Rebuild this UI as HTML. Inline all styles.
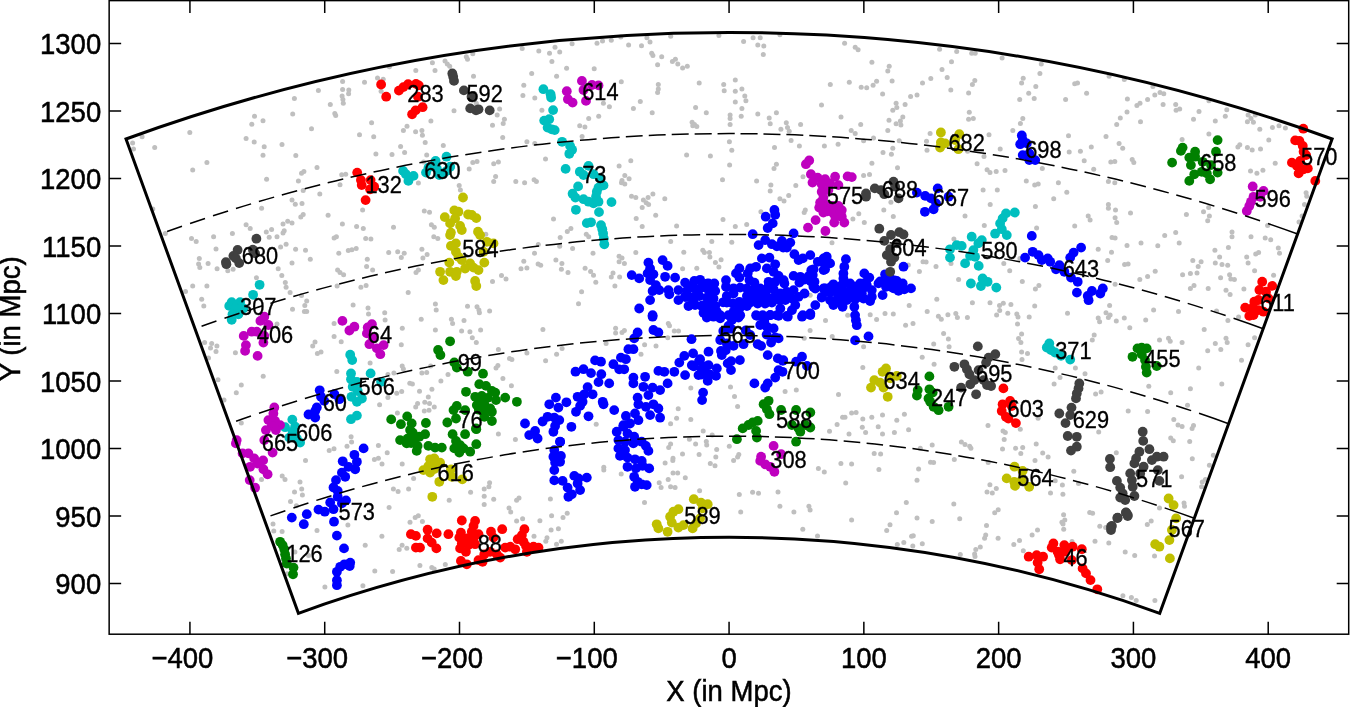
<!DOCTYPE html>
<html><head><meta charset="utf-8"><title>Supercluster map</title>
<style>
html,body{margin:0;padding:0;background:#fff;}
svg{display:block;font-family:"Liberation Sans",sans-serif;}
.tk{font-size:27.5px;fill:#000;stroke:#000;stroke-width:0.5px;}
.n{font-size:21.8px;fill:#000;stroke:#000;stroke-width:0.3px;}
</style></head><body>
<svg width="1350" height="707" viewBox="0 0 1350 707">
<rect x="0" y="0" width="1350" height="707" fill="#fff"/>

<g fill="#bfbfbf">
<circle cx="132.6" cy="143.1" r="2.5"/>
<circle cx="133.5" cy="149.0" r="2.5"/>
<circle cx="142.1" cy="136.7" r="2.5"/>
<circle cx="154.7" cy="147.4" r="2.5"/>
<circle cx="189.8" cy="132.4" r="2.5"/>
<circle cx="192.7" cy="169.9" r="2.5"/>
<circle cx="206.9" cy="162.6" r="2.5"/>
<circle cx="246.1" cy="138.6" r="2.5"/>
<circle cx="251.8" cy="124.3" r="2.5"/>
<circle cx="254.5" cy="116.2" r="2.5"/>
<circle cx="254.2" cy="141.9" r="2.5"/>
<circle cx="263.0" cy="120.8" r="2.5"/>
<circle cx="264.2" cy="146.7" r="2.5"/>
<circle cx="263.0" cy="155.2" r="2.5"/>
<circle cx="266.6" cy="179.2" r="2.5"/>
<circle cx="282.0" cy="144.5" r="2.5"/>
<circle cx="292.7" cy="114.1" r="2.5"/>
<circle cx="294.4" cy="98.4" r="2.5"/>
<circle cx="295.8" cy="155.4" r="2.5"/>
<circle cx="298.4" cy="180.9" r="2.5"/>
<circle cx="301.5" cy="173.3" r="2.5"/>
<circle cx="303.9" cy="171.4" r="2.5"/>
<circle cx="311.5" cy="128.8" r="2.5"/>
<circle cx="317.0" cy="167.6" r="2.5"/>
<circle cx="318.4" cy="90.6" r="2.5"/>
<circle cx="330.3" cy="104.4" r="2.5"/>
<circle cx="334.8" cy="113.4" r="2.5"/>
<circle cx="335.7" cy="115.5" r="2.5"/>
<circle cx="342.6" cy="81.5" r="2.5"/>
<circle cx="342.6" cy="89.6" r="2.5"/>
<circle cx="342.1" cy="96.0" r="2.5"/>
<circle cx="342.9" cy="99.6" r="2.5"/>
<circle cx="343.3" cy="103.2" r="2.5"/>
<circle cx="348.8" cy="90.1" r="2.5"/>
<circle cx="348.6" cy="93.7" r="2.5"/>
<circle cx="341.7" cy="174.7" r="2.5"/>
<circle cx="345.7" cy="174.2" r="2.5"/>
<circle cx="340.0" cy="184.7" r="2.5"/>
<circle cx="359.5" cy="134.8" r="2.5"/>
<circle cx="364.5" cy="82.3" r="2.5"/>
<circle cx="371.6" cy="122.7" r="2.5"/>
<circle cx="373.7" cy="136.7" r="2.5"/>
<circle cx="375.9" cy="154.0" r="2.5"/>
<circle cx="377.5" cy="78.0" r="2.5"/>
<circle cx="383.2" cy="79.2" r="2.5"/>
<circle cx="381.1" cy="91.3" r="2.5"/>
<circle cx="389.4" cy="66.8" r="2.5"/>
<circle cx="392.0" cy="154.5" r="2.5"/>
<circle cx="400.6" cy="146.4" r="2.5"/>
<circle cx="403.4" cy="130.5" r="2.5"/>
<circle cx="407.0" cy="126.2" r="2.5"/>
<circle cx="404.6" cy="152.6" r="2.5"/>
<circle cx="415.6" cy="131.7" r="2.5"/>
<circle cx="415.8" cy="70.4" r="2.5"/>
<circle cx="418.4" cy="183.0" r="2.5"/>
<circle cx="522.2" cy="48.5" r="2.5"/>
<circle cx="538.8" cy="50.9" r="2.5"/>
<circle cx="549.5" cy="53.3" r="2.5"/>
<circle cx="555.0" cy="47.3" r="2.5"/>
<circle cx="559.7" cy="52.1" r="2.5"/>
<circle cx="551.9" cy="61.6" r="2.5"/>
<circle cx="566.6" cy="68.2" r="2.5"/>
<circle cx="572.1" cy="43.8" r="2.5"/>
<circle cx="597.0" cy="43.3" r="2.5"/>
<circle cx="602.5" cy="40.9" r="2.5"/>
<circle cx="611.3" cy="40.2" r="2.5"/>
<circle cx="620.8" cy="37.1" r="2.5"/>
<circle cx="628.6" cy="45.0" r="2.5"/>
<circle cx="641.5" cy="45.7" r="2.5"/>
<circle cx="646.9" cy="37.8" r="2.5"/>
<circle cx="650.0" cy="41.9" r="2.5"/>
<circle cx="651.7" cy="53.3" r="2.5"/>
<circle cx="652.9" cy="55.6" r="2.5"/>
<circle cx="661.7" cy="56.8" r="2.5"/>
<circle cx="657.6" cy="64.7" r="2.5"/>
<circle cx="670.7" cy="36.2" r="2.5"/>
<circle cx="672.4" cy="61.6" r="2.5"/>
<circle cx="675.4" cy="59.2" r="2.5"/>
<circle cx="677.8" cy="64.0" r="2.5"/>
<circle cx="682.6" cy="68.0" r="2.5"/>
<circle cx="687.3" cy="66.3" r="2.5"/>
<circle cx="718.9" cy="35.4" r="2.5"/>
<circle cx="594.2" cy="68.7" r="2.5"/>
<circle cx="432.4" cy="62.8" r="2.5"/>
<circle cx="445.0" cy="60.9" r="2.5"/>
<circle cx="447.3" cy="64.0" r="2.5"/>
<circle cx="449.7" cy="66.3" r="2.5"/>
<circle cx="466.3" cy="56.8" r="2.5"/>
<circle cx="467.5" cy="59.2" r="2.5"/>
<circle cx="472.8" cy="53.7" r="2.5"/>
<circle cx="435.0" cy="70.6" r="2.5"/>
<circle cx="473.5" cy="76.3" r="2.5"/>
<circle cx="531.7" cy="73.5" r="2.5"/>
<circle cx="556.6" cy="76.3" r="2.5"/>
<circle cx="523.8" cy="85.3" r="2.5"/>
<circle cx="522.9" cy="95.6" r="2.5"/>
<circle cx="534.8" cy="97.9" r="2.5"/>
<circle cx="454.0" cy="110.8" r="2.5"/>
<circle cx="430.9" cy="121.0" r="2.5"/>
<circle cx="421.9" cy="130.5" r="2.5"/>
<circle cx="422.4" cy="135.2" r="2.5"/>
<circle cx="425.2" cy="142.4" r="2.5"/>
<circle cx="443.3" cy="145.5" r="2.5"/>
<circle cx="426.7" cy="155.0" r="2.5"/>
<circle cx="423.6" cy="162.1" r="2.5"/>
<circle cx="499.6" cy="109.1" r="2.5"/>
<circle cx="497.2" cy="115.0" r="2.5"/>
<circle cx="504.4" cy="119.3" r="2.5"/>
<circle cx="503.2" cy="123.4" r="2.5"/>
<circle cx="492.5" cy="125.3" r="2.5"/>
<circle cx="502.7" cy="137.6" r="2.5"/>
<circle cx="526.9" cy="141.7" r="2.5"/>
<circle cx="476.3" cy="103.2" r="2.5"/>
<circle cx="541.9" cy="110.3" r="2.5"/>
<circle cx="545.5" cy="159.0" r="2.5"/>
<circle cx="534.8" cy="143.6" r="2.5"/>
<circle cx="477.0" cy="161.4" r="2.5"/>
<circle cx="472.8" cy="162.6" r="2.5"/>
<circle cx="469.2" cy="169.0" r="2.5"/>
<circle cx="493.7" cy="163.8" r="2.5"/>
<circle cx="498.4" cy="162.1" r="2.5"/>
<circle cx="495.6" cy="176.4" r="2.5"/>
<circle cx="493.7" cy="181.6" r="2.5"/>
<circle cx="515.8" cy="181.6" r="2.5"/>
<circle cx="524.6" cy="182.8" r="2.5"/>
<circle cx="534.1" cy="179.7" r="2.5"/>
<circle cx="536.4" cy="181.6" r="2.5"/>
<circle cx="459.2" cy="185.6" r="2.5"/>
<circle cx="603.4" cy="103.2" r="2.5"/>
<circle cx="609.4" cy="106.7" r="2.5"/>
<circle cx="598.7" cy="116.2" r="2.5"/>
<circle cx="588.7" cy="118.6" r="2.5"/>
<circle cx="579.7" cy="125.7" r="2.5"/>
<circle cx="584.9" cy="126.9" r="2.5"/>
<circle cx="582.1" cy="136.4" r="2.5"/>
<circle cx="621.3" cy="81.8" r="2.5"/>
<circle cx="640.3" cy="101.5" r="2.5"/>
<circle cx="633.4" cy="108.6" r="2.5"/>
<circle cx="658.3" cy="84.6" r="2.5"/>
<circle cx="658.3" cy="88.9" r="2.5"/>
<circle cx="657.6" cy="92.5" r="2.5"/>
<circle cx="652.2" cy="112.7" r="2.5"/>
<circle cx="630.8" cy="160.7" r="2.5"/>
<circle cx="619.1" cy="166.1" r="2.5"/>
<circle cx="624.8" cy="175.6" r="2.5"/>
<circle cx="629.1" cy="178.7" r="2.5"/>
<circle cx="621.5" cy="182.8" r="2.5"/>
<circle cx="624.8" cy="184.0" r="2.5"/>
<circle cx="622.0" cy="180.4" r="2.5"/>
<circle cx="699.2" cy="83.0" r="2.5"/>
<circle cx="723.7" cy="84.6" r="2.5"/>
<circle cx="735.3" cy="79.9" r="2.5"/>
<circle cx="724.2" cy="90.8" r="2.5"/>
<circle cx="735.3" cy="91.3" r="2.5"/>
<circle cx="735.3" cy="102.0" r="2.5"/>
<circle cx="695.6" cy="107.4" r="2.5"/>
<circle cx="706.3" cy="112.7" r="2.5"/>
<circle cx="730.1" cy="115.0" r="2.5"/>
<circle cx="730.1" cy="118.6" r="2.5"/>
<circle cx="692.1" cy="122.2" r="2.5"/>
<circle cx="694.5" cy="124.6" r="2.5"/>
<circle cx="696.8" cy="126.5" r="2.5"/>
<circle cx="692.8" cy="125.7" r="2.5"/>
<circle cx="730.1" cy="124.6" r="2.5"/>
<circle cx="729.4" cy="141.7" r="2.5"/>
<circle cx="731.8" cy="150.2" r="2.5"/>
<circle cx="686.6" cy="155.0" r="2.5"/>
<circle cx="710.4" cy="155.9" r="2.5"/>
<circle cx="729.6" cy="165.0" r="2.5"/>
<circle cx="722.5" cy="179.7" r="2.5"/>
<circle cx="743.6" cy="41.4" r="2.5"/>
<circle cx="753.1" cy="37.8" r="2.5"/>
<circle cx="760.2" cy="37.8" r="2.5"/>
<circle cx="757.8" cy="45.0" r="2.5"/>
<circle cx="763.8" cy="46.1" r="2.5"/>
<circle cx="763.3" cy="54.5" r="2.5"/>
<circle cx="779.9" cy="34.7" r="2.5"/>
<circle cx="844.6" cy="43.3" r="2.5"/>
<circle cx="855.2" cy="47.3" r="2.5"/>
<circle cx="858.1" cy="49.7" r="2.5"/>
<circle cx="871.9" cy="62.3" r="2.5"/>
<circle cx="889.2" cy="66.3" r="2.5"/>
<circle cx="887.8" cy="71.1" r="2.5"/>
<circle cx="892.1" cy="81.1" r="2.5"/>
<circle cx="876.6" cy="81.3" r="2.5"/>
<circle cx="873.1" cy="85.3" r="2.5"/>
<circle cx="866.7" cy="87.7" r="2.5"/>
<circle cx="861.2" cy="87.2" r="2.5"/>
<circle cx="849.3" cy="82.3" r="2.5"/>
<circle cx="830.3" cy="84.6" r="2.5"/>
<circle cx="821.5" cy="105.1" r="2.5"/>
<circle cx="882.6" cy="94.1" r="2.5"/>
<circle cx="910.6" cy="96.5" r="2.5"/>
<circle cx="917.0" cy="95.1" r="2.5"/>
<circle cx="922.5" cy="83.0" r="2.5"/>
<circle cx="930.8" cy="78.5" r="2.5"/>
<circle cx="942.0" cy="69.4" r="2.5"/>
<circle cx="947.2" cy="77.5" r="2.5"/>
<circle cx="951.5" cy="61.8" r="2.5"/>
<circle cx="939.6" cy="49.2" r="2.5"/>
<circle cx="956.7" cy="51.6" r="2.5"/>
<circle cx="971.7" cy="53.3" r="2.5"/>
<circle cx="975.2" cy="53.3" r="2.5"/>
<circle cx="1002.1" cy="58.0" r="2.5"/>
<circle cx="1041.3" cy="64.0" r="2.5"/>
<circle cx="1039.9" cy="73.5" r="2.5"/>
<circle cx="1023.2" cy="78.2" r="2.5"/>
<circle cx="1021.6" cy="83.0" r="2.5"/>
<circle cx="1035.8" cy="86.5" r="2.5"/>
<circle cx="1028.7" cy="93.2" r="2.5"/>
<circle cx="1034.2" cy="98.4" r="2.5"/>
<circle cx="1019.7" cy="99.6" r="2.5"/>
<circle cx="974.8" cy="80.6" r="2.5"/>
<circle cx="972.4" cy="84.6" r="2.5"/>
<circle cx="968.6" cy="93.0" r="2.5"/>
<circle cx="950.8" cy="90.1" r="2.5"/>
<circle cx="896.1" cy="103.2" r="2.5"/>
<circle cx="896.8" cy="107.4" r="2.5"/>
<circle cx="892.8" cy="110.3" r="2.5"/>
<circle cx="905.1" cy="104.4" r="2.5"/>
<circle cx="902.8" cy="117.0" r="2.5"/>
<circle cx="900.4" cy="121.0" r="2.5"/>
<circle cx="896.1" cy="123.8" r="2.5"/>
<circle cx="900.9" cy="125.0" r="2.5"/>
<circle cx="889.0" cy="120.3" r="2.5"/>
<circle cx="887.8" cy="130.5" r="2.5"/>
<circle cx="860.7" cy="124.6" r="2.5"/>
<circle cx="841.0" cy="117.0" r="2.5"/>
<circle cx="851.2" cy="130.5" r="2.5"/>
<circle cx="855.2" cy="133.6" r="2.5"/>
<circle cx="741.9" cy="88.9" r="2.5"/>
<circle cx="744.8" cy="96.0" r="2.5"/>
<circle cx="745.9" cy="100.8" r="2.5"/>
<circle cx="741.9" cy="108.4" r="2.5"/>
<circle cx="741.2" cy="116.2" r="2.5"/>
<circle cx="757.8" cy="113.9" r="2.5"/>
<circle cx="776.4" cy="112.7" r="2.5"/>
<circle cx="769.2" cy="118.1" r="2.5"/>
<circle cx="770.2" cy="123.8" r="2.5"/>
<circle cx="786.3" cy="122.7" r="2.5"/>
<circle cx="787.5" cy="127.4" r="2.5"/>
<circle cx="789.2" cy="131.2" r="2.5"/>
<circle cx="780.9" cy="129.3" r="2.5"/>
<circle cx="800.6" cy="124.6" r="2.5"/>
<circle cx="969.3" cy="112.2" r="2.5"/>
<circle cx="968.6" cy="119.3" r="2.5"/>
<circle cx="973.3" cy="118.6" r="2.5"/>
<circle cx="1022.8" cy="118.6" r="2.5"/>
<circle cx="1020.4" cy="123.4" r="2.5"/>
<circle cx="1012.8" cy="130.5" r="2.5"/>
<circle cx="989.0" cy="134.8" r="2.5"/>
<circle cx="930.1" cy="133.6" r="2.5"/>
<circle cx="926.5" cy="141.2" r="2.5"/>
<circle cx="927.0" cy="150.2" r="2.5"/>
<circle cx="899.2" cy="140.7" r="2.5"/>
<circle cx="892.8" cy="148.3" r="2.5"/>
<circle cx="891.4" cy="154.3" r="2.5"/>
<circle cx="883.0" cy="152.4" r="2.5"/>
<circle cx="873.5" cy="138.1" r="2.5"/>
<circle cx="863.6" cy="140.7" r="2.5"/>
<circle cx="838.1" cy="144.3" r="2.5"/>
<circle cx="824.4" cy="145.9" r="2.5"/>
<circle cx="799.4" cy="145.9" r="2.5"/>
<circle cx="791.1" cy="140.5" r="2.5"/>
<circle cx="774.5" cy="147.6" r="2.5"/>
<circle cx="776.4" cy="164.2" r="2.5"/>
<circle cx="774.0" cy="168.5" r="2.5"/>
<circle cx="756.6" cy="181.1" r="2.5"/>
<circle cx="770.9" cy="185.1" r="2.5"/>
<circle cx="795.8" cy="185.6" r="2.5"/>
<circle cx="803.0" cy="176.8" r="2.5"/>
<circle cx="863.6" cy="175.6" r="2.5"/>
<circle cx="869.5" cy="174.5" r="2.5"/>
<circle cx="871.9" cy="163.3" r="2.5"/>
<circle cx="897.5" cy="167.8" r="2.5"/>
<circle cx="977.1" cy="163.8" r="2.5"/>
<circle cx="984.0" cy="156.6" r="2.5"/>
<circle cx="1000.2" cy="149.0" r="2.5"/>
<circle cx="967.6" cy="151.2" r="2.5"/>
<circle cx="987.1" cy="169.7" r="2.5"/>
<circle cx="990.0" cy="172.6" r="2.5"/>
<circle cx="996.2" cy="171.4" r="2.5"/>
<circle cx="1005.0" cy="170.4" r="2.5"/>
<circle cx="1042.3" cy="168.5" r="2.5"/>
<circle cx="1026.3" cy="180.9" r="2.5"/>
<circle cx="1038.2" cy="184.0" r="2.5"/>
<circle cx="1034.7" cy="185.1" r="2.5"/>
<circle cx="1058.4" cy="182.8" r="2.5"/>
<circle cx="1065.6" cy="99.6" r="2.5"/>
<circle cx="1074.7" cy="83.7" r="2.5"/>
<circle cx="1077.5" cy="83.0" r="2.5"/>
<circle cx="1086.6" cy="93.2" r="2.5"/>
<circle cx="1109.1" cy="76.3" r="2.5"/>
<circle cx="1124.3" cy="79.4" r="2.5"/>
<circle cx="1127.4" cy="99.1" r="2.5"/>
<circle cx="1127.0" cy="112.0" r="2.5"/>
<circle cx="1120.3" cy="117.9" r="2.5"/>
<circle cx="1116.7" cy="124.6" r="2.5"/>
<circle cx="1140.5" cy="121.7" r="2.5"/>
<circle cx="1136.9" cy="105.5" r="2.5"/>
<circle cx="1140.0" cy="103.2" r="2.5"/>
<circle cx="1147.6" cy="99.6" r="2.5"/>
<circle cx="1154.8" cy="94.9" r="2.5"/>
<circle cx="1152.9" cy="86.5" r="2.5"/>
<circle cx="1160.0" cy="92.5" r="2.5"/>
<circle cx="1163.8" cy="93.7" r="2.5"/>
<circle cx="1163.1" cy="104.4" r="2.5"/>
<circle cx="1175.7" cy="104.4" r="2.5"/>
<circle cx="1176.1" cy="110.3" r="2.5"/>
<circle cx="1179.7" cy="109.1" r="2.5"/>
<circle cx="1193.5" cy="119.3" r="2.5"/>
<circle cx="1199.0" cy="111.5" r="2.5"/>
<circle cx="1208.9" cy="100.8" r="2.5"/>
<circle cx="1215.3" cy="121.0" r="2.5"/>
<circle cx="1225.3" cy="116.2" r="2.5"/>
<circle cx="1226.8" cy="109.8" r="2.5"/>
<circle cx="1208.9" cy="134.1" r="2.5"/>
<circle cx="1182.1" cy="139.5" r="2.5"/>
<circle cx="1068.5" cy="135.7" r="2.5"/>
<circle cx="1106.0" cy="136.4" r="2.5"/>
<circle cx="1119.1" cy="143.6" r="2.5"/>
<circle cx="1122.7" cy="148.3" r="2.5"/>
<circle cx="1091.3" cy="147.1" r="2.5"/>
<circle cx="1080.4" cy="151.2" r="2.5"/>
<circle cx="1069.2" cy="151.9" r="2.5"/>
<circle cx="1084.2" cy="160.7" r="2.5"/>
<circle cx="1093.7" cy="169.2" r="2.5"/>
<circle cx="1110.8" cy="162.1" r="2.5"/>
<circle cx="1114.8" cy="161.4" r="2.5"/>
<circle cx="1132.2" cy="159.5" r="2.5"/>
<circle cx="1133.8" cy="162.6" r="2.5"/>
<circle cx="1114.8" cy="182.8" r="2.5"/>
<circle cx="1108.4" cy="181.6" r="2.5"/>
<circle cx="1248.1" cy="115.0" r="2.5"/>
<circle cx="1251.0" cy="118.6" r="2.5"/>
<circle cx="1247.4" cy="121.7" r="2.5"/>
<circle cx="1253.4" cy="122.2" r="2.5"/>
<circle cx="1255.3" cy="115.0" r="2.5"/>
<circle cx="1259.8" cy="129.3" r="2.5"/>
<circle cx="1272.4" cy="127.4" r="2.5"/>
<circle cx="1279.0" cy="125.7" r="2.5"/>
<circle cx="1285.4" cy="128.1" r="2.5"/>
<circle cx="1268.8" cy="140.0" r="2.5"/>
<circle cx="1239.8" cy="144.8" r="2.5"/>
<circle cx="1237.9" cy="147.1" r="2.5"/>
<circle cx="1247.4" cy="147.6" r="2.5"/>
<circle cx="1252.2" cy="150.0" r="2.5"/>
<circle cx="1260.5" cy="149.0" r="2.5"/>
<circle cx="1275.2" cy="163.3" r="2.5"/>
<circle cx="1250.5" cy="170.9" r="2.5"/>
<circle cx="1256.9" cy="173.3" r="2.5"/>
<circle cx="1262.9" cy="170.2" r="2.5"/>
<circle cx="152.8" cy="208.9" r="2.5"/>
<circle cx="165.3" cy="233.6" r="2.5"/>
<circle cx="191.5" cy="238.4" r="2.5"/>
<circle cx="196.2" cy="241.5" r="2.5"/>
<circle cx="213.6" cy="236.7" r="2.5"/>
<circle cx="232.4" cy="233.6" r="2.5"/>
<circle cx="246.1" cy="224.8" r="2.5"/>
<circle cx="250.2" cy="228.4" r="2.5"/>
<circle cx="216.0" cy="249.1" r="2.5"/>
<circle cx="199.3" cy="258.6" r="2.5"/>
<circle cx="198.6" cy="264.0" r="2.5"/>
<circle cx="199.8" cy="267.6" r="2.5"/>
<circle cx="208.1" cy="263.6" r="2.5"/>
<circle cx="217.1" cy="268.8" r="2.5"/>
<circle cx="227.8" cy="270.7" r="2.5"/>
<circle cx="233.1" cy="269.3" r="2.5"/>
<circle cx="261.6" cy="208.2" r="2.5"/>
<circle cx="266.3" cy="232.0" r="2.5"/>
<circle cx="271.6" cy="229.6" r="2.5"/>
<circle cx="269.2" cy="237.2" r="2.5"/>
<circle cx="277.0" cy="236.7" r="2.5"/>
<circle cx="283.0" cy="224.1" r="2.5"/>
<circle cx="284.2" cy="230.8" r="2.5"/>
<circle cx="287.7" cy="221.3" r="2.5"/>
<circle cx="292.0" cy="222.9" r="2.5"/>
<circle cx="283.0" cy="233.1" r="2.5"/>
<circle cx="286.1" cy="244.3" r="2.5"/>
<circle cx="280.6" cy="246.9" r="2.5"/>
<circle cx="292.0" cy="199.9" r="2.5"/>
<circle cx="295.3" cy="204.2" r="2.5"/>
<circle cx="302.0" cy="203.4" r="2.5"/>
<circle cx="303.2" cy="190.4" r="2.5"/>
<circle cx="319.8" cy="193.9" r="2.5"/>
<circle cx="300.8" cy="217.0" r="2.5"/>
<circle cx="303.2" cy="214.6" r="2.5"/>
<circle cx="328.1" cy="215.3" r="2.5"/>
<circle cx="342.4" cy="224.1" r="2.5"/>
<circle cx="356.6" cy="226.5" r="2.5"/>
<circle cx="363.3" cy="228.4" r="2.5"/>
<circle cx="362.6" cy="209.9" r="2.5"/>
<circle cx="336.4" cy="236.7" r="2.5"/>
<circle cx="334.1" cy="237.9" r="2.5"/>
<circle cx="365.7" cy="238.4" r="2.5"/>
<circle cx="370.9" cy="239.1" r="2.5"/>
<circle cx="393.5" cy="227.2" r="2.5"/>
<circle cx="348.3" cy="250.5" r="2.5"/>
<circle cx="351.9" cy="249.8" r="2.5"/>
<circle cx="356.2" cy="248.6" r="2.5"/>
<circle cx="338.8" cy="253.3" r="2.5"/>
<circle cx="295.6" cy="249.3" r="2.5"/>
<circle cx="305.5" cy="250.3" r="2.5"/>
<circle cx="310.3" cy="259.3" r="2.5"/>
<circle cx="292.0" cy="262.9" r="2.5"/>
<circle cx="278.2" cy="268.8" r="2.5"/>
<circle cx="281.8" cy="275.4" r="2.5"/>
<circle cx="285.3" cy="282.6" r="2.5"/>
<circle cx="286.1" cy="287.3" r="2.5"/>
<circle cx="290.1" cy="292.6" r="2.5"/>
<circle cx="256.4" cy="277.8" r="2.5"/>
<circle cx="206.9" cy="286.1" r="2.5"/>
<circle cx="192.7" cy="286.1" r="2.5"/>
<circle cx="185.5" cy="291.4" r="2.5"/>
<circle cx="201.7" cy="299.2" r="2.5"/>
<circle cx="203.8" cy="306.1" r="2.5"/>
<circle cx="204.6" cy="342.5" r="2.5"/>
<circle cx="211.7" cy="343.6" r="2.5"/>
<circle cx="210.5" cy="347.9" r="2.5"/>
<circle cx="216.9" cy="346.0" r="2.5"/>
<circle cx="216.0" cy="351.5" r="2.5"/>
<circle cx="235.4" cy="352.7" r="2.5"/>
<circle cx="337.6" cy="270.0" r="2.5"/>
<circle cx="340.0" cy="272.4" r="2.5"/>
<circle cx="343.6" cy="274.7" r="2.5"/>
<circle cx="367.3" cy="259.3" r="2.5"/>
<circle cx="366.6" cy="266.4" r="2.5"/>
<circle cx="372.6" cy="270.0" r="2.5"/>
<circle cx="388.7" cy="252.6" r="2.5"/>
<circle cx="397.7" cy="251.7" r="2.5"/>
<circle cx="404.2" cy="253.3" r="2.5"/>
<circle cx="401.3" cy="257.4" r="2.5"/>
<circle cx="418.4" cy="270.0" r="2.5"/>
<circle cx="416.0" cy="272.4" r="2.5"/>
<circle cx="408.2" cy="292.6" r="2.5"/>
<circle cx="366.1" cy="285.4" r="2.5"/>
<circle cx="360.9" cy="287.3" r="2.5"/>
<circle cx="337.1" cy="286.1" r="2.5"/>
<circle cx="306.7" cy="300.9" r="2.5"/>
<circle cx="304.8" cy="305.6" r="2.5"/>
<circle cx="301.5" cy="295.4" r="2.5"/>
<circle cx="292.5" cy="309.2" r="2.5"/>
<circle cx="304.4" cy="311.6" r="2.5"/>
<circle cx="306.7" cy="311.6" r="2.5"/>
<circle cx="277.0" cy="323.9" r="2.5"/>
<circle cx="353.1" cy="304.9" r="2.5"/>
<circle cx="368.0" cy="308.0" r="2.5"/>
<circle cx="368.5" cy="313.9" r="2.5"/>
<circle cx="384.7" cy="312.8" r="2.5"/>
<circle cx="385.1" cy="319.9" r="2.5"/>
<circle cx="334.1" cy="323.4" r="2.5"/>
<circle cx="402.3" cy="328.2" r="2.5"/>
<circle cx="401.3" cy="344.8" r="2.5"/>
<circle cx="334.1" cy="336.5" r="2.5"/>
<circle cx="341.2" cy="341.7" r="2.5"/>
<circle cx="315.0" cy="342.0" r="2.5"/>
<circle cx="312.7" cy="346.0" r="2.5"/>
<circle cx="321.0" cy="352.0" r="2.5"/>
<circle cx="317.4" cy="353.6" r="2.5"/>
<circle cx="460.4" cy="189.9" r="2.5"/>
<circle cx="424.3" cy="211.0" r="2.5"/>
<circle cx="429.5" cy="212.2" r="2.5"/>
<circle cx="431.4" cy="224.8" r="2.5"/>
<circle cx="434.3" cy="227.2" r="2.5"/>
<circle cx="433.8" cy="236.7" r="2.5"/>
<circle cx="437.8" cy="238.4" r="2.5"/>
<circle cx="421.9" cy="249.3" r="2.5"/>
<circle cx="427.1" cy="254.5" r="2.5"/>
<circle cx="422.9" cy="258.1" r="2.5"/>
<circle cx="485.8" cy="234.3" r="2.5"/>
<circle cx="553.5" cy="218.9" r="2.5"/>
<circle cx="570.9" cy="228.4" r="2.5"/>
<circle cx="567.3" cy="231.5" r="2.5"/>
<circle cx="560.2" cy="237.4" r="2.5"/>
<circle cx="586.3" cy="234.3" r="2.5"/>
<circle cx="588.7" cy="236.7" r="2.5"/>
<circle cx="559.7" cy="246.2" r="2.5"/>
<circle cx="572.6" cy="248.6" r="2.5"/>
<circle cx="593.0" cy="253.3" r="2.5"/>
<circle cx="538.3" cy="244.6" r="2.5"/>
<circle cx="534.5" cy="253.3" r="2.5"/>
<circle cx="523.8" cy="261.2" r="2.5"/>
<circle cx="521.0" cy="268.8" r="2.5"/>
<circle cx="526.9" cy="268.1" r="2.5"/>
<circle cx="538.1" cy="264.0" r="2.5"/>
<circle cx="540.7" cy="265.2" r="2.5"/>
<circle cx="555.9" cy="260.0" r="2.5"/>
<circle cx="561.9" cy="263.6" r="2.5"/>
<circle cx="561.4" cy="269.3" r="2.5"/>
<circle cx="568.0" cy="272.4" r="2.5"/>
<circle cx="585.1" cy="268.3" r="2.5"/>
<circle cx="590.6" cy="271.6" r="2.5"/>
<circle cx="593.5" cy="275.2" r="2.5"/>
<circle cx="595.8" cy="282.3" r="2.5"/>
<circle cx="581.6" cy="291.8" r="2.5"/>
<circle cx="578.5" cy="303.7" r="2.5"/>
<circle cx="501.5" cy="275.4" r="2.5"/>
<circle cx="506.0" cy="279.0" r="2.5"/>
<circle cx="492.5" cy="281.4" r="2.5"/>
<circle cx="435.4" cy="304.0" r="2.5"/>
<circle cx="436.2" cy="309.9" r="2.5"/>
<circle cx="467.5" cy="306.3" r="2.5"/>
<circle cx="477.0" cy="306.8" r="2.5"/>
<circle cx="478.9" cy="309.9" r="2.5"/>
<circle cx="479.4" cy="312.8" r="2.5"/>
<circle cx="489.6" cy="311.1" r="2.5"/>
<circle cx="421.2" cy="319.2" r="2.5"/>
<circle cx="451.4" cy="319.2" r="2.5"/>
<circle cx="452.6" cy="323.4" r="2.5"/>
<circle cx="464.0" cy="320.6" r="2.5"/>
<circle cx="435.4" cy="329.9" r="2.5"/>
<circle cx="461.6" cy="331.0" r="2.5"/>
<circle cx="469.9" cy="331.8" r="2.5"/>
<circle cx="472.3" cy="337.7" r="2.5"/>
<circle cx="480.6" cy="329.9" r="2.5"/>
<circle cx="476.3" cy="342.5" r="2.5"/>
<circle cx="542.9" cy="329.4" r="2.5"/>
<circle cx="498.4" cy="349.6" r="2.5"/>
<circle cx="526.9" cy="353.1" r="2.5"/>
<circle cx="562.1" cy="348.4" r="2.5"/>
<circle cx="556.6" cy="354.3" r="2.5"/>
<circle cx="631.5" cy="196.3" r="2.5"/>
<circle cx="635.8" cy="197.5" r="2.5"/>
<circle cx="643.4" cy="199.9" r="2.5"/>
<circle cx="646.2" cy="202.7" r="2.5"/>
<circle cx="648.6" cy="204.6" r="2.5"/>
<circle cx="648.1" cy="197.5" r="2.5"/>
<circle cx="652.9" cy="193.9" r="2.5"/>
<circle cx="664.8" cy="198.7" r="2.5"/>
<circle cx="642.2" cy="207.5" r="2.5"/>
<circle cx="655.7" cy="215.3" r="2.5"/>
<circle cx="636.2" cy="218.4" r="2.5"/>
<circle cx="642.2" cy="226.5" r="2.5"/>
<circle cx="676.6" cy="226.0" r="2.5"/>
<circle cx="723.0" cy="219.6" r="2.5"/>
<circle cx="735.3" cy="226.5" r="2.5"/>
<circle cx="670.7" cy="241.5" r="2.5"/>
<circle cx="711.8" cy="241.5" r="2.5"/>
<circle cx="731.8" cy="242.2" r="2.5"/>
<circle cx="683.8" cy="252.2" r="2.5"/>
<circle cx="702.8" cy="250.3" r="2.5"/>
<circle cx="704.4" cy="252.6" r="2.5"/>
<circle cx="709.4" cy="252.6" r="2.5"/>
<circle cx="709.9" cy="256.9" r="2.5"/>
<circle cx="721.1" cy="259.8" r="2.5"/>
<circle cx="715.4" cy="262.4" r="2.5"/>
<circle cx="718.9" cy="267.1" r="2.5"/>
<circle cx="696.8" cy="268.3" r="2.5"/>
<circle cx="682.6" cy="268.8" r="2.5"/>
<circle cx="635.8" cy="252.6" r="2.5"/>
<circle cx="619.1" cy="256.2" r="2.5"/>
<circle cx="622.0" cy="258.1" r="2.5"/>
<circle cx="619.1" cy="261.7" r="2.5"/>
<circle cx="624.4" cy="263.6" r="2.5"/>
<circle cx="613.0" cy="273.1" r="2.5"/>
<circle cx="611.3" cy="277.1" r="2.5"/>
<circle cx="619.6" cy="277.1" r="2.5"/>
<circle cx="614.9" cy="286.1" r="2.5"/>
<circle cx="615.6" cy="328.2" r="2.5"/>
<circle cx="615.6" cy="333.0" r="2.5"/>
<circle cx="622.0" cy="332.5" r="2.5"/>
<circle cx="624.4" cy="330.6" r="2.5"/>
<circle cx="606.1" cy="343.6" r="2.5"/>
<circle cx="668.3" cy="323.4" r="2.5"/>
<circle cx="669.5" cy="325.8" r="2.5"/>
<circle cx="674.3" cy="331.0" r="2.5"/>
<circle cx="678.5" cy="331.0" r="2.5"/>
<circle cx="667.8" cy="337.7" r="2.5"/>
<circle cx="656.0" cy="346.0" r="2.5"/>
<circle cx="644.6" cy="344.8" r="2.5"/>
<circle cx="641.0" cy="354.3" r="2.5"/>
<circle cx="770.2" cy="190.9" r="2.5"/>
<circle cx="779.9" cy="198.7" r="2.5"/>
<circle cx="784.0" cy="201.1" r="2.5"/>
<circle cx="788.7" cy="195.6" r="2.5"/>
<circle cx="760.9" cy="211.8" r="2.5"/>
<circle cx="746.7" cy="224.4" r="2.5"/>
<circle cx="805.3" cy="209.9" r="2.5"/>
<circle cx="804.2" cy="212.5" r="2.5"/>
<circle cx="832.0" cy="242.7" r="2.5"/>
<circle cx="858.8" cy="213.7" r="2.5"/>
<circle cx="852.9" cy="218.9" r="2.5"/>
<circle cx="864.3" cy="222.5" r="2.5"/>
<circle cx="883.8" cy="209.9" r="2.5"/>
<circle cx="893.3" cy="216.5" r="2.5"/>
<circle cx="890.9" cy="202.3" r="2.5"/>
<circle cx="965.0" cy="216.0" r="2.5"/>
<circle cx="990.2" cy="204.6" r="2.5"/>
<circle cx="983.1" cy="189.9" r="2.5"/>
<circle cx="997.3" cy="189.9" r="2.5"/>
<circle cx="1053.7" cy="198.7" r="2.5"/>
<circle cx="1035.4" cy="206.5" r="2.5"/>
<circle cx="984.3" cy="225.5" r="2.5"/>
<circle cx="1036.6" cy="227.9" r="2.5"/>
<circle cx="953.9" cy="239.1" r="2.5"/>
<circle cx="936.0" cy="266.4" r="2.5"/>
<circle cx="923.0" cy="261.7" r="2.5"/>
<circle cx="926.1" cy="262.1" r="2.5"/>
<circle cx="919.4" cy="271.6" r="2.5"/>
<circle cx="951.0" cy="263.6" r="2.5"/>
<circle cx="958.6" cy="279.5" r="2.5"/>
<circle cx="1003.8" cy="263.6" r="2.5"/>
<circle cx="1009.7" cy="270.7" r="2.5"/>
<circle cx="1022.3" cy="281.4" r="2.5"/>
<circle cx="1038.9" cy="285.4" r="2.5"/>
<circle cx="1035.4" cy="289.0" r="2.5"/>
<circle cx="1019.9" cy="258.6" r="2.5"/>
<circle cx="936.8" cy="299.2" r="2.5"/>
<circle cx="909.2" cy="305.6" r="2.5"/>
<circle cx="927.2" cy="311.6" r="2.5"/>
<circle cx="870.2" cy="314.7" r="2.5"/>
<circle cx="876.6" cy="319.4" r="2.5"/>
<circle cx="885.0" cy="313.5" r="2.5"/>
<circle cx="893.3" cy="313.9" r="2.5"/>
<circle cx="905.6" cy="325.3" r="2.5"/>
<circle cx="913.0" cy="323.4" r="2.5"/>
<circle cx="938.4" cy="316.3" r="2.5"/>
<circle cx="941.3" cy="319.2" r="2.5"/>
<circle cx="947.9" cy="314.7" r="2.5"/>
<circle cx="955.8" cy="313.5" r="2.5"/>
<circle cx="957.4" cy="317.5" r="2.5"/>
<circle cx="967.4" cy="317.5" r="2.5"/>
<circle cx="972.4" cy="302.8" r="2.5"/>
<circle cx="990.0" cy="302.8" r="2.5"/>
<circle cx="999.5" cy="305.6" r="2.5"/>
<circle cx="1003.3" cy="303.2" r="2.5"/>
<circle cx="1010.9" cy="304.4" r="2.5"/>
<circle cx="999.7" cy="310.4" r="2.5"/>
<circle cx="996.6" cy="315.1" r="2.5"/>
<circle cx="1007.8" cy="313.2" r="2.5"/>
<circle cx="1016.8" cy="313.9" r="2.5"/>
<circle cx="1018.0" cy="317.0" r="2.5"/>
<circle cx="1029.2" cy="317.0" r="2.5"/>
<circle cx="1034.7" cy="306.1" r="2.5"/>
<circle cx="1017.5" cy="323.9" r="2.5"/>
<circle cx="943.6" cy="333.4" r="2.5"/>
<circle cx="948.4" cy="338.9" r="2.5"/>
<circle cx="933.7" cy="344.1" r="2.5"/>
<circle cx="949.1" cy="346.7" r="2.5"/>
<circle cx="1021.6" cy="334.1" r="2.5"/>
<circle cx="1018.5" cy="338.4" r="2.5"/>
<circle cx="1020.9" cy="342.5" r="2.5"/>
<circle cx="1021.6" cy="352.0" r="2.5"/>
<circle cx="1027.5" cy="353.6" r="2.5"/>
<circle cx="825.5" cy="320.4" r="2.5"/>
<circle cx="810.1" cy="330.6" r="2.5"/>
<circle cx="804.2" cy="338.2" r="2.5"/>
<circle cx="832.2" cy="336.5" r="2.5"/>
<circle cx="863.6" cy="346.7" r="2.5"/>
<circle cx="1066.8" cy="192.3" r="2.5"/>
<circle cx="1088.2" cy="216.0" r="2.5"/>
<circle cx="1090.1" cy="220.1" r="2.5"/>
<circle cx="1074.7" cy="226.0" r="2.5"/>
<circle cx="1108.4" cy="204.6" r="2.5"/>
<circle cx="1108.4" cy="208.2" r="2.5"/>
<circle cx="1115.5" cy="209.9" r="2.5"/>
<circle cx="1115.1" cy="217.7" r="2.5"/>
<circle cx="1116.7" cy="222.5" r="2.5"/>
<circle cx="1130.5" cy="213.0" r="2.5"/>
<circle cx="1112.0" cy="237.4" r="2.5"/>
<circle cx="1115.1" cy="237.9" r="2.5"/>
<circle cx="1098.2" cy="249.3" r="2.5"/>
<circle cx="1111.5" cy="252.2" r="2.5"/>
<circle cx="1127.0" cy="245.5" r="2.5"/>
<circle cx="1141.0" cy="243.1" r="2.5"/>
<circle cx="1157.8" cy="245.7" r="2.5"/>
<circle cx="1164.7" cy="235.5" r="2.5"/>
<circle cx="1175.7" cy="232.4" r="2.5"/>
<circle cx="1179.2" cy="243.1" r="2.5"/>
<circle cx="1186.4" cy="214.6" r="2.5"/>
<circle cx="1203.5" cy="211.8" r="2.5"/>
<circle cx="1209.4" cy="216.0" r="2.5"/>
<circle cx="1207.7" cy="220.8" r="2.5"/>
<circle cx="1208.7" cy="207.5" r="2.5"/>
<circle cx="1232.0" cy="232.0" r="2.5"/>
<circle cx="1232.0" cy="236.7" r="2.5"/>
<circle cx="1251.0" cy="236.7" r="2.5"/>
<circle cx="1265.2" cy="237.9" r="2.5"/>
<circle cx="1270.7" cy="239.8" r="2.5"/>
<circle cx="1267.6" cy="225.5" r="2.5"/>
<circle cx="1278.3" cy="248.1" r="2.5"/>
<circle cx="1279.5" cy="253.3" r="2.5"/>
<circle cx="1299.0" cy="222.0" r="2.5"/>
<circle cx="1302.1" cy="216.0" r="2.5"/>
<circle cx="1304.5" cy="204.6" r="2.5"/>
<circle cx="1306.8" cy="196.3" r="2.5"/>
<circle cx="1306.1" cy="192.8" r="2.5"/>
<circle cx="1258.6" cy="252.6" r="2.5"/>
<circle cx="1255.7" cy="254.1" r="2.5"/>
<circle cx="1246.7" cy="256.9" r="2.5"/>
<circle cx="1248.1" cy="262.9" r="2.5"/>
<circle cx="1254.6" cy="270.7" r="2.5"/>
<circle cx="1273.6" cy="275.2" r="2.5"/>
<circle cx="1228.4" cy="247.4" r="2.5"/>
<circle cx="1214.9" cy="250.3" r="2.5"/>
<circle cx="1219.6" cy="256.9" r="2.5"/>
<circle cx="1215.3" cy="262.9" r="2.5"/>
<circle cx="1222.0" cy="264.5" r="2.5"/>
<circle cx="1227.7" cy="265.2" r="2.5"/>
<circle cx="1192.8" cy="260.5" r="2.5"/>
<circle cx="1201.1" cy="261.7" r="2.5"/>
<circle cx="1198.2" cy="266.4" r="2.5"/>
<circle cx="1197.0" cy="273.1" r="2.5"/>
<circle cx="1190.4" cy="273.5" r="2.5"/>
<circle cx="1182.6" cy="274.7" r="2.5"/>
<circle cx="1155.2" cy="271.2" r="2.5"/>
<circle cx="1147.6" cy="276.4" r="2.5"/>
<circle cx="1139.8" cy="279.5" r="2.5"/>
<circle cx="1124.6" cy="264.5" r="2.5"/>
<circle cx="1128.1" cy="264.0" r="2.5"/>
<circle cx="1107.7" cy="260.5" r="2.5"/>
<circle cx="1115.1" cy="284.2" r="2.5"/>
<circle cx="1220.6" cy="277.8" r="2.5"/>
<circle cx="1229.6" cy="274.7" r="2.5"/>
<circle cx="1230.8" cy="279.0" r="2.5"/>
<circle cx="1234.4" cy="279.5" r="2.5"/>
<circle cx="1208.2" cy="288.5" r="2.5"/>
<circle cx="1194.0" cy="285.4" r="2.5"/>
<circle cx="1190.4" cy="288.5" r="2.5"/>
<circle cx="1226.0" cy="290.2" r="2.5"/>
<circle cx="1230.1" cy="294.5" r="2.5"/>
<circle cx="1243.9" cy="289.0" r="2.5"/>
<circle cx="1109.6" cy="305.6" r="2.5"/>
<circle cx="1106.0" cy="312.8" r="2.5"/>
<circle cx="1108.4" cy="317.5" r="2.5"/>
<circle cx="1110.1" cy="315.1" r="2.5"/>
<circle cx="1098.2" cy="318.0" r="2.5"/>
<circle cx="1099.6" cy="321.8" r="2.5"/>
<circle cx="1116.3" cy="321.1" r="2.5"/>
<circle cx="1124.3" cy="318.0" r="2.5"/>
<circle cx="1145.7" cy="319.9" r="2.5"/>
<circle cx="1153.6" cy="309.9" r="2.5"/>
<circle cx="1178.5" cy="311.6" r="2.5"/>
<circle cx="1216.5" cy="310.9" r="2.5"/>
<circle cx="1227.9" cy="320.6" r="2.5"/>
<circle cx="1238.6" cy="317.0" r="2.5"/>
<circle cx="1204.2" cy="329.4" r="2.5"/>
<circle cx="1129.8" cy="327.7" r="2.5"/>
<circle cx="1094.2" cy="334.9" r="2.5"/>
<circle cx="1092.3" cy="340.1" r="2.5"/>
<circle cx="1159.5" cy="340.1" r="2.5"/>
<circle cx="1168.5" cy="338.2" r="2.5"/>
<circle cx="1170.2" cy="341.3" r="2.5"/>
<circle cx="1182.1" cy="342.5" r="2.5"/>
<circle cx="1215.3" cy="343.6" r="2.5"/>
<circle cx="1220.8" cy="349.6" r="2.5"/>
<circle cx="1207.7" cy="350.8" r="2.5"/>
<circle cx="1226.0" cy="338.2" r="2.5"/>
<circle cx="1227.2" cy="342.5" r="2.5"/>
<circle cx="1248.1" cy="344.8" r="2.5"/>
<circle cx="1254.6" cy="337.7" r="2.5"/>
<circle cx="1067.5" cy="313.2" r="2.5"/>
<circle cx="263.2" cy="376.2" r="2.5"/>
<circle cx="241.3" cy="385.0" r="2.5"/>
<circle cx="236.3" cy="392.8" r="2.5"/>
<circle cx="218.0" cy="379.8" r="2.5"/>
<circle cx="208.5" cy="357.9" r="2.5"/>
<circle cx="224.0" cy="400.0" r="2.5"/>
<circle cx="241.3" cy="423.0" r="2.5"/>
<circle cx="336.8" cy="371.4" r="2.5"/>
<circle cx="370.1" cy="363.1" r="2.5"/>
<circle cx="402.2" cy="366.0" r="2.5"/>
<circle cx="403.4" cy="369.1" r="2.5"/>
<circle cx="387.9" cy="374.5" r="2.5"/>
<circle cx="393.9" cy="373.1" r="2.5"/>
<circle cx="396.7" cy="393.3" r="2.5"/>
<circle cx="401.7" cy="391.6" r="2.5"/>
<circle cx="387.9" cy="397.6" r="2.5"/>
<circle cx="379.6" cy="404.7" r="2.5"/>
<circle cx="409.8" cy="383.3" r="2.5"/>
<circle cx="412.4" cy="384.0" r="2.5"/>
<circle cx="421.9" cy="373.1" r="2.5"/>
<circle cx="426.7" cy="372.6" r="2.5"/>
<circle cx="430.7" cy="366.0" r="2.5"/>
<circle cx="440.9" cy="381.0" r="2.5"/>
<circle cx="448.0" cy="374.5" r="2.5"/>
<circle cx="431.9" cy="389.3" r="2.5"/>
<circle cx="419.5" cy="391.2" r="2.5"/>
<circle cx="428.3" cy="396.9" r="2.5"/>
<circle cx="424.8" cy="402.3" r="2.5"/>
<circle cx="417.6" cy="403.5" r="2.5"/>
<circle cx="415.7" cy="407.1" r="2.5"/>
<circle cx="429.5" cy="403.5" r="2.5"/>
<circle cx="434.3" cy="407.1" r="2.5"/>
<circle cx="429.0" cy="410.2" r="2.5"/>
<circle cx="424.3" cy="411.1" r="2.5"/>
<circle cx="397.4" cy="413.0" r="2.5"/>
<circle cx="496.0" cy="367.9" r="2.5"/>
<circle cx="497.9" cy="365.5" r="2.5"/>
<circle cx="351.1" cy="436.8" r="2.5"/>
<circle cx="351.6" cy="442.0" r="2.5"/>
<circle cx="347.0" cy="446.3" r="2.5"/>
<circle cx="329.2" cy="450.6" r="2.5"/>
<circle cx="334.0" cy="448.7" r="2.5"/>
<circle cx="378.4" cy="445.6" r="2.5"/>
<circle cx="387.2" cy="452.7" r="2.5"/>
<circle cx="374.4" cy="459.4" r="2.5"/>
<circle cx="378.4" cy="458.2" r="2.5"/>
<circle cx="382.0" cy="464.1" r="2.5"/>
<circle cx="402.2" cy="464.1" r="2.5"/>
<circle cx="305.5" cy="460.6" r="2.5"/>
<circle cx="282.2" cy="476.0" r="2.5"/>
<circle cx="285.0" cy="479.6" r="2.5"/>
<circle cx="300.0" cy="481.9" r="2.5"/>
<circle cx="294.5" cy="491.9" r="2.5"/>
<circle cx="301.7" cy="489.1" r="2.5"/>
<circle cx="302.4" cy="495.0" r="2.5"/>
<circle cx="290.5" cy="501.4" r="2.5"/>
<circle cx="296.4" cy="505.7" r="2.5"/>
<circle cx="261.5" cy="479.6" r="2.5"/>
<circle cx="413.6" cy="478.4" r="2.5"/>
<circle cx="393.4" cy="489.1" r="2.5"/>
<circle cx="398.1" cy="491.4" r="2.5"/>
<circle cx="408.6" cy="489.1" r="2.5"/>
<circle cx="449.2" cy="500.2" r="2.5"/>
<circle cx="470.6" cy="492.2" r="2.5"/>
<circle cx="484.2" cy="489.1" r="2.5"/>
<circle cx="484.2" cy="496.2" r="2.5"/>
<circle cx="489.6" cy="482.7" r="2.5"/>
<circle cx="488.9" cy="486.7" r="2.5"/>
<circle cx="493.7" cy="499.3" r="2.5"/>
<circle cx="484.2" cy="504.5" r="2.5"/>
<circle cx="389.1" cy="507.4" r="2.5"/>
<circle cx="415.2" cy="517.6" r="2.5"/>
<circle cx="418.3" cy="515.7" r="2.5"/>
<circle cx="422.4" cy="521.6" r="2.5"/>
<circle cx="410.0" cy="522.3" r="2.5"/>
<circle cx="498.4" cy="433.9" r="2.5"/>
<circle cx="509.5" cy="358.4" r="2.5"/>
<circle cx="511.9" cy="359.6" r="2.5"/>
<circle cx="545.6" cy="360.8" r="2.5"/>
<circle cx="502.9" cy="378.6" r="2.5"/>
<circle cx="511.4" cy="385.7" r="2.5"/>
<circle cx="515.4" cy="439.6" r="2.5"/>
<circle cx="596.2" cy="424.2" r="2.5"/>
<circle cx="603.8" cy="467.2" r="2.5"/>
<circle cx="603.8" cy="470.1" r="2.5"/>
<circle cx="621.2" cy="474.1" r="2.5"/>
<circle cx="678.2" cy="408.8" r="2.5"/>
<circle cx="676.6" cy="418.3" r="2.5"/>
<circle cx="670.6" cy="423.7" r="2.5"/>
<circle cx="690.8" cy="419.4" r="2.5"/>
<circle cx="690.8" cy="388.1" r="2.5"/>
<circle cx="730.5" cy="386.9" r="2.5"/>
<circle cx="734.5" cy="396.4" r="2.5"/>
<circle cx="737.6" cy="406.4" r="2.5"/>
<circle cx="703.2" cy="430.9" r="2.5"/>
<circle cx="712.2" cy="434.9" r="2.5"/>
<circle cx="689.4" cy="439.2" r="2.5"/>
<circle cx="695.6" cy="443.9" r="2.5"/>
<circle cx="670.6" cy="443.9" r="2.5"/>
<circle cx="668.7" cy="447.5" r="2.5"/>
<circle cx="682.5" cy="453.9" r="2.5"/>
<circle cx="673.0" cy="458.2" r="2.5"/>
<circle cx="672.8" cy="460.6" r="2.5"/>
<circle cx="665.1" cy="462.9" r="2.5"/>
<circle cx="699.1" cy="454.6" r="2.5"/>
<circle cx="706.3" cy="441.5" r="2.5"/>
<circle cx="706.7" cy="445.1" r="2.5"/>
<circle cx="716.7" cy="449.4" r="2.5"/>
<circle cx="715.8" cy="457.0" r="2.5"/>
<circle cx="710.3" cy="463.6" r="2.5"/>
<circle cx="715.0" cy="465.8" r="2.5"/>
<circle cx="729.3" cy="446.3" r="2.5"/>
<circle cx="738.8" cy="454.6" r="2.5"/>
<circle cx="737.6" cy="457.0" r="2.5"/>
<circle cx="733.6" cy="460.6" r="2.5"/>
<circle cx="673.0" cy="472.9" r="2.5"/>
<circle cx="677.7" cy="473.1" r="2.5"/>
<circle cx="685.3" cy="477.7" r="2.5"/>
<circle cx="668.2" cy="479.6" r="2.5"/>
<circle cx="659.2" cy="482.7" r="2.5"/>
<circle cx="661.1" cy="487.4" r="2.5"/>
<circle cx="670.6" cy="486.7" r="2.5"/>
<circle cx="675.1" cy="487.4" r="2.5"/>
<circle cx="699.6" cy="490.7" r="2.5"/>
<circle cx="644.5" cy="502.6" r="2.5"/>
<circle cx="739.3" cy="494.5" r="2.5"/>
<circle cx="752.6" cy="492.2" r="2.5"/>
<circle cx="758.5" cy="493.3" r="2.5"/>
<circle cx="778.0" cy="491.9" r="2.5"/>
<circle cx="779.9" cy="506.2" r="2.5"/>
<circle cx="740.7" cy="512.1" r="2.5"/>
<circle cx="793.9" cy="512.1" r="2.5"/>
<circle cx="808.9" cy="506.2" r="2.5"/>
<circle cx="810.1" cy="510.0" r="2.5"/>
<circle cx="818.4" cy="468.4" r="2.5"/>
<circle cx="785.1" cy="391.6" r="2.5"/>
<circle cx="796.3" cy="390.0" r="2.5"/>
<circle cx="519.0" cy="497.9" r="2.5"/>
<circle cx="516.6" cy="500.2" r="2.5"/>
<circle cx="509.0" cy="508.1" r="2.5"/>
<circle cx="510.7" cy="512.1" r="2.5"/>
<circle cx="550.4" cy="499.0" r="2.5"/>
<circle cx="567.2" cy="513.3" r="2.5"/>
<circle cx="563.0" cy="517.6" r="2.5"/>
<circle cx="551.6" cy="515.7" r="2.5"/>
<circle cx="539.9" cy="520.7" r="2.5"/>
<circle cx="522.6" cy="518.8" r="2.5"/>
<circle cx="516.6" cy="521.1" r="2.5"/>
<circle cx="862.8" cy="367.4" r="2.5"/>
<circle cx="934.1" cy="364.3" r="2.5"/>
<circle cx="922.2" cy="357.2" r="2.5"/>
<circle cx="1022.0" cy="359.6" r="2.5"/>
<circle cx="1055.2" cy="367.9" r="2.5"/>
<circle cx="1060.0" cy="377.4" r="2.5"/>
<circle cx="1054.1" cy="384.0" r="2.5"/>
<circle cx="1075.4" cy="367.9" r="2.5"/>
<circle cx="1085.0" cy="373.8" r="2.5"/>
<circle cx="1095.6" cy="394.0" r="2.5"/>
<circle cx="1101.1" cy="392.1" r="2.5"/>
<circle cx="1128.2" cy="411.1" r="2.5"/>
<circle cx="1098.7" cy="432.0" r="2.5"/>
<circle cx="1116.3" cy="452.7" r="2.5"/>
<circle cx="1038.1" cy="418.3" r="2.5"/>
<circle cx="1020.3" cy="429.2" r="2.5"/>
<circle cx="1003.0" cy="430.9" r="2.5"/>
<circle cx="1005.3" cy="432.5" r="2.5"/>
<circle cx="1004.2" cy="439.6" r="2.5"/>
<circle cx="988.0" cy="425.4" r="2.5"/>
<circle cx="838.5" cy="394.5" r="2.5"/>
<circle cx="842.6" cy="417.3" r="2.5"/>
<circle cx="845.0" cy="417.3" r="2.5"/>
<circle cx="851.6" cy="413.0" r="2.5"/>
<circle cx="856.1" cy="412.6" r="2.5"/>
<circle cx="862.8" cy="419.0" r="2.5"/>
<circle cx="871.8" cy="417.3" r="2.5"/>
<circle cx="882.5" cy="414.9" r="2.5"/>
<circle cx="896.8" cy="420.2" r="2.5"/>
<circle cx="904.4" cy="414.2" r="2.5"/>
<circle cx="837.1" cy="424.4" r="2.5"/>
<circle cx="829.5" cy="431.3" r="2.5"/>
<circle cx="849.0" cy="433.9" r="2.5"/>
<circle cx="862.3" cy="427.3" r="2.5"/>
<circle cx="865.6" cy="432.5" r="2.5"/>
<circle cx="878.2" cy="426.8" r="2.5"/>
<circle cx="882.5" cy="433.9" r="2.5"/>
<circle cx="894.4" cy="432.5" r="2.5"/>
<circle cx="908.6" cy="429.7" r="2.5"/>
<circle cx="961.4" cy="442.0" r="2.5"/>
<circle cx="965.0" cy="444.6" r="2.5"/>
<circle cx="969.7" cy="446.3" r="2.5"/>
<circle cx="970.9" cy="448.2" r="2.5"/>
<circle cx="932.2" cy="445.1" r="2.5"/>
<circle cx="920.3" cy="448.2" r="2.5"/>
<circle cx="874.2" cy="453.4" r="2.5"/>
<circle cx="880.6" cy="453.9" r="2.5"/>
<circle cx="840.9" cy="463.4" r="2.5"/>
<circle cx="851.6" cy="464.1" r="2.5"/>
<circle cx="878.9" cy="469.6" r="2.5"/>
<circle cx="824.3" cy="472.0" r="2.5"/>
<circle cx="845.7" cy="483.1" r="2.5"/>
<circle cx="918.6" cy="468.9" r="2.5"/>
<circle cx="930.5" cy="462.2" r="2.5"/>
<circle cx="933.6" cy="462.5" r="2.5"/>
<circle cx="917.0" cy="480.3" r="2.5"/>
<circle cx="954.3" cy="459.4" r="2.5"/>
<circle cx="988.2" cy="462.5" r="2.5"/>
<circle cx="1002.5" cy="449.1" r="2.5"/>
<circle cx="1015.6" cy="448.2" r="2.5"/>
<circle cx="1022.7" cy="447.5" r="2.5"/>
<circle cx="1020.8" cy="453.4" r="2.5"/>
<circle cx="1036.2" cy="443.9" r="2.5"/>
<circle cx="1042.7" cy="453.0" r="2.5"/>
<circle cx="1048.1" cy="457.0" r="2.5"/>
<circle cx="1035.0" cy="460.6" r="2.5"/>
<circle cx="1073.8" cy="471.2" r="2.5"/>
<circle cx="1078.5" cy="483.6" r="2.5"/>
<circle cx="1062.4" cy="485.0" r="2.5"/>
<circle cx="1055.2" cy="480.8" r="2.5"/>
<circle cx="1062.9" cy="494.3" r="2.5"/>
<circle cx="1050.5" cy="493.1" r="2.5"/>
<circle cx="989.9" cy="484.8" r="2.5"/>
<circle cx="996.3" cy="488.6" r="2.5"/>
<circle cx="987.0" cy="491.9" r="2.5"/>
<circle cx="992.3" cy="493.1" r="2.5"/>
<circle cx="953.8" cy="504.0" r="2.5"/>
<circle cx="906.3" cy="502.6" r="2.5"/>
<circle cx="896.5" cy="512.8" r="2.5"/>
<circle cx="917.0" cy="518.1" r="2.5"/>
<circle cx="851.6" cy="520.0" r="2.5"/>
<circle cx="932.2" cy="521.6" r="2.5"/>
<circle cx="959.7" cy="518.8" r="2.5"/>
<circle cx="994.7" cy="512.8" r="2.5"/>
<circle cx="998.2" cy="509.7" r="2.5"/>
<circle cx="1063.6" cy="514.7" r="2.5"/>
<circle cx="1064.8" cy="520.0" r="2.5"/>
<circle cx="1061.9" cy="522.3" r="2.5"/>
<circle cx="1089.7" cy="512.4" r="2.5"/>
<circle cx="1092.6" cy="513.3" r="2.5"/>
<circle cx="1148.8" cy="386.2" r="2.5"/>
<circle cx="1170.7" cy="392.8" r="2.5"/>
<circle cx="1190.4" cy="388.8" r="2.5"/>
<circle cx="1198.7" cy="367.9" r="2.5"/>
<circle cx="1221.8" cy="384.0" r="2.5"/>
<circle cx="1241.5" cy="360.3" r="2.5"/>
<circle cx="1187.5" cy="405.2" r="2.5"/>
<circle cx="1147.6" cy="411.4" r="2.5"/>
<circle cx="1173.8" cy="419.4" r="2.5"/>
<circle cx="1178.0" cy="424.9" r="2.5"/>
<circle cx="1182.1" cy="426.6" r="2.5"/>
<circle cx="1193.5" cy="425.4" r="2.5"/>
<circle cx="1192.1" cy="428.5" r="2.5"/>
<circle cx="1170.7" cy="438.0" r="2.5"/>
<circle cx="1173.3" cy="440.8" r="2.5"/>
<circle cx="1189.7" cy="441.5" r="2.5"/>
<circle cx="1192.3" cy="458.7" r="2.5"/>
<circle cx="1213.4" cy="455.3" r="2.5"/>
<circle cx="1209.4" cy="465.3" r="2.5"/>
<circle cx="1181.6" cy="476.7" r="2.5"/>
<circle cx="1205.4" cy="479.6" r="2.5"/>
<circle cx="1202.3" cy="481.9" r="2.5"/>
<circle cx="1201.6" cy="486.7" r="2.5"/>
<circle cx="1184.0" cy="502.9" r="2.5"/>
<circle cx="1184.5" cy="506.2" r="2.5"/>
<circle cx="1159.5" cy="508.1" r="2.5"/>
<circle cx="1151.2" cy="521.1" r="2.5"/>
<circle cx="273.0" cy="524.0" r="2.5"/>
<circle cx="273.8" cy="531.1" r="2.5"/>
<circle cx="282.1" cy="531.6" r="2.5"/>
<circle cx="317.0" cy="530.4" r="2.5"/>
<circle cx="347.9" cy="525.1" r="2.5"/>
<circle cx="381.9" cy="536.3" r="2.5"/>
<circle cx="365.2" cy="545.3" r="2.5"/>
<circle cx="402.1" cy="545.3" r="2.5"/>
<circle cx="399.2" cy="549.4" r="2.5"/>
<circle cx="406.8" cy="548.2" r="2.5"/>
<circle cx="419.9" cy="565.5" r="2.5"/>
<circle cx="431.8" cy="567.4" r="2.5"/>
<circle cx="434.2" cy="569.1" r="2.5"/>
<circle cx="445.3" cy="564.4" r="2.5"/>
<circle cx="374.8" cy="571.0" r="2.5"/>
<circle cx="392.6" cy="571.5" r="2.5"/>
<circle cx="362.9" cy="585.7" r="2.5"/>
<circle cx="324.9" cy="586.9" r="2.5"/>
<circle cx="534.0" cy="536.3" r="2.5"/>
<circle cx="547.0" cy="537.7" r="2.5"/>
<circle cx="545.8" cy="541.3" r="2.5"/>
<circle cx="561.3" cy="541.3" r="2.5"/>
<circle cx="556.5" cy="544.2" r="2.5"/>
<circle cx="558.4" cy="528.7" r="2.5"/>
<circle cx="551.1" cy="529.9" r="2.5"/>
<circle cx="886.7" cy="530.4" r="2.5"/>
<circle cx="890.0" cy="524.7" r="2.5"/>
<circle cx="911.6" cy="536.3" r="2.5"/>
<circle cx="913.3" cy="535.8" r="2.5"/>
<circle cx="903.8" cy="542.5" r="2.5"/>
<circle cx="897.3" cy="544.6" r="2.5"/>
<circle cx="912.8" cy="546.1" r="2.5"/>
<circle cx="922.3" cy="543.7" r="2.5"/>
<circle cx="986.5" cy="525.6" r="2.5"/>
<circle cx="985.7" cy="535.1" r="2.5"/>
<circle cx="984.6" cy="538.2" r="2.5"/>
<circle cx="980.3" cy="547.0" r="2.5"/>
<circle cx="975.8" cy="549.4" r="2.5"/>
<circle cx="974.6" cy="554.1" r="2.5"/>
<circle cx="975.0" cy="556.5" r="2.5"/>
<circle cx="960.3" cy="554.4" r="2.5"/>
<circle cx="998.1" cy="538.2" r="2.5"/>
<circle cx="1013.8" cy="544.6" r="2.5"/>
<circle cx="1019.5" cy="540.6" r="2.5"/>
<circle cx="1023.3" cy="550.8" r="2.5"/>
<circle cx="1032.1" cy="535.1" r="2.5"/>
<circle cx="1037.5" cy="529.9" r="2.5"/>
<circle cx="1063.7" cy="529.2" r="2.5"/>
<circle cx="1063.0" cy="524.0" r="2.5"/>
<circle cx="1095.0" cy="541.3" r="2.5"/>
<circle cx="1108.8" cy="543.0" r="2.5"/>
<circle cx="1099.8" cy="526.3" r="2.5"/>
<circle cx="1105.7" cy="527.5" r="2.5"/>
<circle cx="1125.2" cy="552.0" r="2.5"/>
<circle cx="1134.7" cy="555.6" r="2.5"/>
<circle cx="1154.5" cy="556.0" r="2.5"/>
<circle cx="1147.3" cy="524.4" r="2.5"/>
<circle cx="1122.9" cy="595.7" r="2.5"/>
<circle cx="1131.4" cy="597.6" r="2.5"/>
<circle cx="1136.2" cy="600.5" r="2.5"/>
<circle cx="1154.9" cy="600.5" r="2.5"/>
<circle cx="802.8" cy="529.3" r="2.5"/>
<circle cx="817.5" cy="536.0" r="2.5"/>
<circle cx="810.2" cy="295.2" r="2.5"/>
<circle cx="847.7" cy="315.2" r="2.5"/>
<circle cx="908.3" cy="264.9" r="2.5"/>
<circle cx="294.9" cy="551.9" r="2.5"/>
<circle cx="308.6" cy="555.4" r="2.5"/>
<circle cx="287.2" cy="573.8" r="2.5"/>
<circle cx="1072.0" cy="541.5" r="2.5"/>
</g>
<g fill="#0000ff">
<circle cx="319.7" cy="390.3" r="4.9"/>
<circle cx="334.4" cy="394.2" r="4.9"/>
<circle cx="321.0" cy="396.7" r="4.9"/>
<circle cx="339.4" cy="399.2" r="4.9"/>
<circle cx="316.8" cy="407.5" r="4.9"/>
<circle cx="315.2" cy="410.9" r="4.9"/>
<circle cx="308.5" cy="414.5" r="4.9"/>
<circle cx="315.2" cy="417.6" r="4.9"/>
<circle cx="324.3" cy="400.9" r="4.9"/>
<circle cx="363.6" cy="448.4" r="4.9"/>
<circle cx="354.4" cy="454.8" r="4.9"/>
<circle cx="342.7" cy="461.3" r="4.9"/>
<circle cx="356.9" cy="461.8" r="4.9"/>
<circle cx="355.2" cy="469.3" r="4.9"/>
<circle cx="348.5" cy="466.8" r="4.9"/>
<circle cx="341.9" cy="472.6" r="4.9"/>
<circle cx="345.2" cy="476.8" r="4.9"/>
<circle cx="336.0" cy="480.1" r="4.9"/>
<circle cx="333.5" cy="487.5" r="4.9"/>
<circle cx="337.7" cy="490.9" r="4.9"/>
<circle cx="337.7" cy="496.7" r="4.9"/>
<circle cx="346.0" cy="500.4" r="4.9"/>
<circle cx="330.2" cy="502.5" r="4.9"/>
<circle cx="341.9" cy="503.4" r="4.9"/>
<circle cx="318.5" cy="509.6" r="4.9"/>
<circle cx="333.5" cy="509.2" r="4.9"/>
<circle cx="324.8" cy="511.7" r="4.9"/>
<circle cx="306.8" cy="514.2" r="4.9"/>
<circle cx="291.8" cy="517.6" r="4.9"/>
<circle cx="303.8" cy="524.2" r="4.9"/>
<circle cx="334.0" cy="521.7" r="4.9"/>
<circle cx="336.9" cy="535.6" r="4.9"/>
<circle cx="344.0" cy="548.4" r="4.9"/>
<circle cx="350.2" cy="562.6" r="4.9"/>
<circle cx="344.4" cy="564.3" r="4.9"/>
<circle cx="349.7" cy="566.0" r="4.9"/>
<circle cx="340.2" cy="566.8" r="4.9"/>
<circle cx="336.9" cy="571.8" r="4.9"/>
<circle cx="336.9" cy="580.2" r="4.9"/>
<circle cx="336.9" cy="585.2" r="4.9"/>
<circle cx="774.4" cy="210.0" r="4.9"/>
<circle cx="775.2" cy="214.7" r="4.9"/>
<circle cx="765.7" cy="216.7" r="4.9"/>
<circle cx="772.7" cy="223.4" r="4.9"/>
<circle cx="767.7" cy="228.0" r="4.9"/>
<circle cx="752.7" cy="234.2" r="4.9"/>
<circle cx="793.6" cy="233.4" r="4.9"/>
<circle cx="765.2" cy="240.1" r="4.9"/>
<circle cx="758.6" cy="245.1" r="4.9"/>
<circle cx="771.9" cy="244.2" r="4.9"/>
<circle cx="781.9" cy="240.9" r="4.9"/>
<circle cx="790.3" cy="242.6" r="4.9"/>
<circle cx="786.9" cy="247.6" r="4.9"/>
<circle cx="794.4" cy="254.2" r="4.9"/>
<circle cx="798.6" cy="260.1" r="4.9"/>
<circle cx="802.8" cy="258.4" r="4.9"/>
<circle cx="810.3" cy="255.1" r="4.9"/>
<circle cx="817.8" cy="261.8" r="4.9"/>
<circle cx="823.6" cy="258.4" r="4.9"/>
<circle cx="648.4" cy="262.6" r="4.9"/>
<circle cx="662.6" cy="260.1" r="4.9"/>
<circle cx="667.6" cy="265.9" r="4.9"/>
<circle cx="650.1" cy="268.4" r="4.9"/>
<circle cx="631.7" cy="275.1" r="4.9"/>
<circle cx="639.2" cy="278.4" r="4.9"/>
<circle cx="647.6" cy="273.4" r="4.9"/>
<circle cx="653.4" cy="274.3" r="4.9"/>
<circle cx="650.1" cy="280.1" r="4.9"/>
<circle cx="665.1" cy="276.8" r="4.9"/>
<circle cx="675.1" cy="277.6" r="4.9"/>
<circle cx="655.9" cy="285.1" r="4.9"/>
<circle cx="652.6" cy="291.0" r="4.9"/>
<circle cx="659.3" cy="290.1" r="4.9"/>
<circle cx="668.4" cy="290.1" r="4.9"/>
<circle cx="669.3" cy="294.3" r="4.9"/>
<circle cx="650.1" cy="300.1" r="4.9"/>
<circle cx="639.2" cy="308.5" r="4.9"/>
<circle cx="652.6" cy="315.2" r="4.9"/>
<circle cx="685.1" cy="282.6" r="4.9"/>
<circle cx="694.3" cy="280.9" r="4.9"/>
<circle cx="700.1" cy="279.8" r="4.9"/>
<circle cx="708.5" cy="283.5" r="4.9"/>
<circle cx="714.3" cy="283.5" r="4.9"/>
<circle cx="678.4" cy="290.1" r="4.9"/>
<circle cx="686.8" cy="291.0" r="4.9"/>
<circle cx="694.3" cy="288.5" r="4.9"/>
<circle cx="701.8" cy="287.6" r="4.9"/>
<circle cx="708.5" cy="290.1" r="4.9"/>
<circle cx="715.2" cy="291.0" r="4.9"/>
<circle cx="678.4" cy="300.1" r="4.9"/>
<circle cx="685.1" cy="296.8" r="4.9"/>
<circle cx="691.8" cy="297.6" r="4.9"/>
<circle cx="699.3" cy="296.0" r="4.9"/>
<circle cx="706.8" cy="297.6" r="4.9"/>
<circle cx="713.5" cy="298.5" r="4.9"/>
<circle cx="688.5" cy="306.0" r="4.9"/>
<circle cx="695.1" cy="305.1" r="4.9"/>
<circle cx="701.8" cy="306.0" r="4.9"/>
<circle cx="708.5" cy="305.1" r="4.9"/>
<circle cx="715.2" cy="306.0" r="4.9"/>
<circle cx="703.5" cy="312.7" r="4.9"/>
<circle cx="710.2" cy="313.5" r="4.9"/>
<circle cx="716.8" cy="311.8" r="4.9"/>
<circle cx="720.2" cy="315.2" r="4.9"/>
<circle cx="739.4" cy="268.4" r="4.9"/>
<circle cx="736.0" cy="273.4" r="4.9"/>
<circle cx="739.4" cy="277.6" r="4.9"/>
<circle cx="726.0" cy="280.1" r="4.9"/>
<circle cx="726.0" cy="286.8" r="4.9"/>
<circle cx="733.5" cy="288.5" r="4.9"/>
<circle cx="740.2" cy="287.6" r="4.9"/>
<circle cx="726.8" cy="296.0" r="4.9"/>
<circle cx="733.5" cy="293.5" r="4.9"/>
<circle cx="726.8" cy="302.6" r="4.9"/>
<circle cx="732.7" cy="303.5" r="4.9"/>
<circle cx="739.4" cy="301.8" r="4.9"/>
<circle cx="739.4" cy="308.5" r="4.9"/>
<circle cx="733.5" cy="311.8" r="4.9"/>
<circle cx="728.5" cy="315.2" r="4.9"/>
<circle cx="740.2" cy="315.2" r="4.9"/>
<circle cx="761.9" cy="258.4" r="4.9"/>
<circle cx="769.4" cy="257.6" r="4.9"/>
<circle cx="775.2" cy="264.3" r="4.9"/>
<circle cx="750.2" cy="268.4" r="4.9"/>
<circle cx="756.1" cy="266.8" r="4.9"/>
<circle cx="766.9" cy="268.4" r="4.9"/>
<circle cx="747.7" cy="273.4" r="4.9"/>
<circle cx="773.6" cy="271.8" r="4.9"/>
<circle cx="778.6" cy="275.9" r="4.9"/>
<circle cx="749.4" cy="280.1" r="4.9"/>
<circle cx="754.4" cy="282.6" r="4.9"/>
<circle cx="768.6" cy="281.8" r="4.9"/>
<circle cx="775.2" cy="281.8" r="4.9"/>
<circle cx="783.6" cy="280.1" r="4.9"/>
<circle cx="784.4" cy="283.5" r="4.9"/>
<circle cx="746.9" cy="288.5" r="4.9"/>
<circle cx="753.6" cy="290.1" r="4.9"/>
<circle cx="760.2" cy="288.5" r="4.9"/>
<circle cx="766.9" cy="289.3" r="4.9"/>
<circle cx="773.6" cy="289.3" r="4.9"/>
<circle cx="746.9" cy="296.0" r="4.9"/>
<circle cx="753.6" cy="296.8" r="4.9"/>
<circle cx="760.2" cy="296.0" r="4.9"/>
<circle cx="766.9" cy="296.8" r="4.9"/>
<circle cx="773.6" cy="297.6" r="4.9"/>
<circle cx="780.3" cy="293.5" r="4.9"/>
<circle cx="786.9" cy="291.8" r="4.9"/>
<circle cx="793.6" cy="290.1" r="4.9"/>
<circle cx="750.2" cy="302.6" r="4.9"/>
<circle cx="757.7" cy="303.5" r="4.9"/>
<circle cx="765.2" cy="303.5" r="4.9"/>
<circle cx="771.9" cy="302.6" r="4.9"/>
<circle cx="779.4" cy="300.1" r="4.9"/>
<circle cx="785.3" cy="300.1" r="4.9"/>
<circle cx="791.9" cy="298.5" r="4.9"/>
<circle cx="798.6" cy="296.8" r="4.9"/>
<circle cx="804.5" cy="293.5" r="4.9"/>
<circle cx="746.9" cy="306.0" r="4.9"/>
<circle cx="780.3" cy="308.5" r="4.9"/>
<circle cx="795.3" cy="305.1" r="4.9"/>
<circle cx="791.9" cy="310.2" r="4.9"/>
<circle cx="793.6" cy="275.9" r="4.9"/>
<circle cx="800.3" cy="276.8" r="4.9"/>
<circle cx="799.4" cy="282.6" r="4.9"/>
<circle cx="807.0" cy="278.4" r="4.9"/>
<circle cx="813.6" cy="269.3" r="4.9"/>
<circle cx="812.8" cy="275.1" r="4.9"/>
<circle cx="814.5" cy="281.8" r="4.9"/>
<circle cx="815.3" cy="288.5" r="4.9"/>
<circle cx="823.6" cy="270.1" r="4.9"/>
<circle cx="823.6" cy="288.5" r="4.9"/>
<circle cx="822.0" cy="296.8" r="4.9"/>
<circle cx="815.3" cy="305.1" r="4.9"/>
<circle cx="810.3" cy="313.5" r="4.9"/>
<circle cx="802.8" cy="315.2" r="4.9"/>
<circle cx="756.1" cy="315.2" r="4.9"/>
<circle cx="762.7" cy="315.2" r="4.9"/>
<circle cx="770.2" cy="315.2" r="4.9"/>
<circle cx="776.9" cy="315.2" r="4.9"/>
<circle cx="786.9" cy="316.0" r="4.9"/>
<circle cx="652.6" cy="316.7" r="4.9"/>
<circle cx="706.8" cy="317.5" r="4.9"/>
<circle cx="713.5" cy="316.7" r="4.9"/>
<circle cx="720.2" cy="318.3" r="4.9"/>
<circle cx="731.9" cy="320.0" r="4.9"/>
<circle cx="738.5" cy="317.5" r="4.9"/>
<circle cx="756.9" cy="315.8" r="4.9"/>
<circle cx="763.6" cy="317.5" r="4.9"/>
<circle cx="770.2" cy="315.0" r="4.9"/>
<circle cx="778.6" cy="315.8" r="4.9"/>
<circle cx="787.8" cy="316.7" r="4.9"/>
<circle cx="802.0" cy="316.7" r="4.9"/>
<circle cx="810.3" cy="315.0" r="4.9"/>
<circle cx="760.2" cy="325.0" r="4.9"/>
<circle cx="766.9" cy="326.7" r="4.9"/>
<circle cx="773.6" cy="328.4" r="4.9"/>
<circle cx="728.5" cy="325.9" r="4.9"/>
<circle cx="653.4" cy="330.0" r="4.9"/>
<circle cx="658.4" cy="332.5" r="4.9"/>
<circle cx="637.6" cy="332.5" r="4.9"/>
<circle cx="634.2" cy="338.4" r="4.9"/>
<circle cx="691.5" cy="339.2" r="4.9"/>
<circle cx="628.4" cy="349.2" r="4.9"/>
<circle cx="633.4" cy="349.2" r="4.9"/>
<circle cx="620.9" cy="357.6" r="4.9"/>
<circle cx="625.9" cy="359.2" r="4.9"/>
<circle cx="613.4" cy="364.2" r="4.9"/>
<circle cx="619.2" cy="369.3" r="4.9"/>
<circle cx="624.2" cy="369.3" r="4.9"/>
<circle cx="609.2" cy="383.4" r="4.9"/>
<circle cx="614.2" cy="410.1" r="4.9"/>
<circle cx="720.2" cy="340.0" r="4.9"/>
<circle cx="726.8" cy="343.4" r="4.9"/>
<circle cx="733.5" cy="345.9" r="4.9"/>
<circle cx="743.5" cy="344.2" r="4.9"/>
<circle cx="750.2" cy="335.0" r="4.9"/>
<circle cx="757.7" cy="344.2" r="4.9"/>
<circle cx="761.1" cy="345.9" r="4.9"/>
<circle cx="771.1" cy="342.5" r="4.9"/>
<circle cx="775.2" cy="337.5" r="4.9"/>
<circle cx="778.6" cy="338.4" r="4.9"/>
<circle cx="721.0" cy="350.9" r="4.9"/>
<circle cx="721.8" cy="355.1" r="4.9"/>
<circle cx="708.5" cy="351.7" r="4.9"/>
<circle cx="693.1" cy="353.4" r="4.9"/>
<circle cx="684.3" cy="355.9" r="4.9"/>
<circle cx="679.3" cy="362.6" r="4.9"/>
<circle cx="700.1" cy="359.2" r="4.9"/>
<circle cx="691.8" cy="365.1" r="4.9"/>
<circle cx="708.5" cy="365.1" r="4.9"/>
<circle cx="716.8" cy="368.4" r="4.9"/>
<circle cx="701.8" cy="369.3" r="4.9"/>
<circle cx="698.5" cy="375.1" r="4.9"/>
<circle cx="708.5" cy="374.3" r="4.9"/>
<circle cx="716.0" cy="375.9" r="4.9"/>
<circle cx="707.7" cy="380.9" r="4.9"/>
<circle cx="685.1" cy="375.1" r="4.9"/>
<circle cx="674.3" cy="371.8" r="4.9"/>
<circle cx="658.4" cy="370.9" r="4.9"/>
<circle cx="664.3" cy="371.8" r="4.9"/>
<circle cx="727.7" cy="363.4" r="4.9"/>
<circle cx="731.0" cy="370.1" r="4.9"/>
<circle cx="739.9" cy="360.1" r="4.9"/>
<circle cx="767.7" cy="355.1" r="4.9"/>
<circle cx="777.8" cy="358.4" r="4.9"/>
<circle cx="782.8" cy="360.9" r="4.9"/>
<circle cx="802.0" cy="356.7" r="4.9"/>
<circle cx="796.1" cy="361.7" r="4.9"/>
<circle cx="807.0" cy="365.9" r="4.9"/>
<circle cx="778.6" cy="370.1" r="4.9"/>
<circle cx="775.2" cy="377.6" r="4.9"/>
<circle cx="767.7" cy="383.4" r="4.9"/>
<circle cx="765.2" cy="387.6" r="4.9"/>
<circle cx="754.4" cy="383.4" r="4.9"/>
<circle cx="703.1" cy="392.6" r="4.9"/>
<circle cx="702.1" cy="400.1" r="4.9"/>
<circle cx="633.4" cy="377.6" r="4.9"/>
<circle cx="645.1" cy="376.8" r="4.9"/>
<circle cx="633.4" cy="383.4" r="4.9"/>
<circle cx="643.4" cy="386.8" r="4.9"/>
<circle cx="652.6" cy="387.6" r="4.9"/>
<circle cx="660.1" cy="390.1" r="4.9"/>
<circle cx="667.6" cy="383.4" r="4.9"/>
<circle cx="648.4" cy="395.1" r="4.9"/>
<circle cx="637.6" cy="397.6" r="4.9"/>
<circle cx="638.4" cy="404.3" r="4.9"/>
<circle cx="653.4" cy="404.3" r="4.9"/>
<circle cx="645.9" cy="406.8" r="4.9"/>
<circle cx="658.4" cy="408.5" r="4.9"/>
<circle cx="650.1" cy="415.1" r="4.9"/>
<circle cx="660.1" cy="417.7" r="4.9"/>
<circle cx="635.0" cy="413.5" r="4.9"/>
<circle cx="625.9" cy="416.0" r="4.9"/>
<circle cx="638.4" cy="420.2" r="4.9"/>
<circle cx="630.0" cy="423.5" r="4.9"/>
<circle cx="623.4" cy="425.2" r="4.9"/>
<circle cx="623.4" cy="426.7" r="4.9"/>
<circle cx="616.7" cy="431.7" r="4.9"/>
<circle cx="627.5" cy="433.4" r="4.9"/>
<circle cx="634.2" cy="436.7" r="4.9"/>
<circle cx="618.4" cy="440.1" r="4.9"/>
<circle cx="625.0" cy="441.7" r="4.9"/>
<circle cx="633.4" cy="443.4" r="4.9"/>
<circle cx="641.7" cy="441.7" r="4.9"/>
<circle cx="645.9" cy="445.9" r="4.9"/>
<circle cx="648.4" cy="450.9" r="4.9"/>
<circle cx="618.4" cy="448.4" r="4.9"/>
<circle cx="625.0" cy="450.1" r="4.9"/>
<circle cx="620.0" cy="455.9" r="4.9"/>
<circle cx="627.5" cy="457.6" r="4.9"/>
<circle cx="635.0" cy="459.3" r="4.9"/>
<circle cx="641.7" cy="460.9" r="4.9"/>
<circle cx="627.5" cy="466.8" r="4.9"/>
<circle cx="635.9" cy="468.4" r="4.9"/>
<circle cx="642.6" cy="465.9" r="4.9"/>
<circle cx="649.2" cy="468.4" r="4.9"/>
<circle cx="634.2" cy="476.8" r="4.9"/>
<circle cx="637.6" cy="481.8" r="4.9"/>
<circle cx="635.0" cy="486.8" r="4.9"/>
<circle cx="641.7" cy="484.3" r="4.9"/>
<circle cx="646.7" cy="485.1" r="4.9"/>
<circle cx="595.1" cy="360.4" r="4.9"/>
<circle cx="601.0" cy="361.7" r="4.9"/>
<circle cx="575.5" cy="371.7" r="4.9"/>
<circle cx="583.5" cy="369.2" r="4.9"/>
<circle cx="591.0" cy="373.1" r="4.9"/>
<circle cx="601.3" cy="374.2" r="4.9"/>
<circle cx="598.5" cy="382.1" r="4.9"/>
<circle cx="587.6" cy="387.1" r="4.9"/>
<circle cx="592.6" cy="394.3" r="4.9"/>
<circle cx="584.3" cy="394.3" r="4.9"/>
<circle cx="577.6" cy="396.8" r="4.9"/>
<circle cx="582.6" cy="401.8" r="4.9"/>
<circle cx="580.1" cy="405.9" r="4.9"/>
<circle cx="576.0" cy="411.8" r="4.9"/>
<circle cx="588.5" cy="416.3" r="4.9"/>
<circle cx="602.7" cy="401.8" r="4.9"/>
<circle cx="603.5" cy="404.3" r="4.9"/>
<circle cx="555.9" cy="397.6" r="4.9"/>
<circle cx="549.3" cy="404.3" r="4.9"/>
<circle cx="558.4" cy="407.6" r="4.9"/>
<circle cx="566.4" cy="402.3" r="4.9"/>
<circle cx="547.6" cy="416.8" r="4.9"/>
<circle cx="542.6" cy="421.5" r="4.9"/>
<circle cx="554.3" cy="417.6" r="4.9"/>
<circle cx="559.3" cy="420.1" r="4.9"/>
<circle cx="555.1" cy="426.0" r="4.9"/>
<circle cx="553.4" cy="431.8" r="4.9"/>
<circle cx="571.4" cy="426.8" r="4.9"/>
<circle cx="525.0" cy="423.5" r="4.9"/>
<circle cx="535.1" cy="431.0" r="4.9"/>
<circle cx="529.2" cy="435.1" r="4.9"/>
<circle cx="537.6" cy="438.5" r="4.9"/>
<circle cx="560.1" cy="441.8" r="4.9"/>
<circle cx="560.1" cy="441.7" r="4.9"/>
<circle cx="554.3" cy="450.1" r="4.9"/>
<circle cx="553.4" cy="456.7" r="4.9"/>
<circle cx="560.9" cy="455.9" r="4.9"/>
<circle cx="555.1" cy="462.6" r="4.9"/>
<circle cx="560.1" cy="461.8" r="4.9"/>
<circle cx="554.3" cy="470.1" r="4.9"/>
<circle cx="554.3" cy="480.4" r="4.9"/>
<circle cx="562.6" cy="480.9" r="4.9"/>
<circle cx="567.6" cy="487.6" r="4.9"/>
<circle cx="574.3" cy="475.9" r="4.9"/>
<circle cx="578.5" cy="478.4" r="4.9"/>
<circle cx="586.8" cy="477.6" r="4.9"/>
<circle cx="577.6" cy="483.5" r="4.9"/>
<circle cx="580.1" cy="490.1" r="4.9"/>
<circle cx="571.8" cy="494.3" r="4.9"/>
<circle cx="568.4" cy="496.8" r="4.9"/>
<circle cx="937.7" cy="188.4" r="4.9"/>
<circle cx="916.9" cy="192.6" r="4.9"/>
<circle cx="925.2" cy="195.9" r="4.9"/>
<circle cx="931.0" cy="198.4" r="4.9"/>
<circle cx="948.6" cy="196.7" r="4.9"/>
<circle cx="933.6" cy="209.3" r="4.9"/>
<circle cx="924.9" cy="211.8" r="4.9"/>
<circle cx="936.1" cy="203.4" r="4.9"/>
<circle cx="826.7" cy="256.7" r="4.9"/>
<circle cx="830.1" cy="263.4" r="4.9"/>
<circle cx="825.1" cy="269.3" r="4.9"/>
<circle cx="845.9" cy="259.2" r="4.9"/>
<circle cx="844.3" cy="266.7" r="4.9"/>
<circle cx="843.4" cy="273.4" r="4.9"/>
<circle cx="843.4" cy="278.4" r="4.9"/>
<circle cx="864.3" cy="273.4" r="4.9"/>
<circle cx="869.3" cy="277.6" r="4.9"/>
<circle cx="903.5" cy="266.7" r="4.9"/>
<circle cx="885.1" cy="274.3" r="4.9"/>
<circle cx="890.2" cy="278.4" r="4.9"/>
<circle cx="896.8" cy="280.9" r="4.9"/>
<circle cx="902.7" cy="283.4" r="4.9"/>
<circle cx="911.0" cy="288.4" r="4.9"/>
<circle cx="878.5" cy="283.4" r="4.9"/>
<circle cx="886.0" cy="286.8" r="4.9"/>
<circle cx="893.5" cy="288.4" r="4.9"/>
<circle cx="898.5" cy="290.9" r="4.9"/>
<circle cx="882.6" cy="295.1" r="4.9"/>
<circle cx="860.1" cy="283.4" r="4.9"/>
<circle cx="866.8" cy="285.1" r="4.9"/>
<circle cx="871.8" cy="290.1" r="4.9"/>
<circle cx="871.8" cy="296.8" r="4.9"/>
<circle cx="870.1" cy="301.0" r="4.9"/>
<circle cx="833.4" cy="284.3" r="4.9"/>
<circle cx="841.8" cy="285.1" r="4.9"/>
<circle cx="850.1" cy="283.4" r="4.9"/>
<circle cx="825.1" cy="288.4" r="4.9"/>
<circle cx="830.1" cy="291.8" r="4.9"/>
<circle cx="837.6" cy="293.5" r="4.9"/>
<circle cx="845.9" cy="291.8" r="4.9"/>
<circle cx="853.4" cy="292.6" r="4.9"/>
<circle cx="861.8" cy="293.5" r="4.9"/>
<circle cx="821.7" cy="297.6" r="4.9"/>
<circle cx="830.1" cy="300.1" r="4.9"/>
<circle cx="838.4" cy="301.0" r="4.9"/>
<circle cx="846.8" cy="300.1" r="4.9"/>
<circle cx="855.1" cy="299.3" r="4.9"/>
<circle cx="863.5" cy="298.5" r="4.9"/>
<circle cx="833.4" cy="305.1" r="4.9"/>
<circle cx="842.6" cy="306.8" r="4.9"/>
<circle cx="854.3" cy="306.8" r="4.9"/>
<circle cx="855.1" cy="315.1" r="4.9"/>
<circle cx="855.9" cy="320.2" r="4.9"/>
<circle cx="856.8" cy="325.2" r="4.9"/>
<circle cx="868.5" cy="336.4" r="4.9"/>
<circle cx="855.1" cy="340.4" r="4.9"/>
<circle cx="783.3" cy="360.1" r="4.9"/>
<circle cx="782.5" cy="371.8" r="4.9"/>
<circle cx="1021.8" cy="135.5" r="4.9"/>
<circle cx="1022.7" cy="140.0" r="4.9"/>
<circle cx="1020.2" cy="144.2" r="4.9"/>
<circle cx="1026.8" cy="143.4" r="4.9"/>
<circle cx="1022.7" cy="155.1" r="4.9"/>
<circle cx="1029.3" cy="153.4" r="4.9"/>
<circle cx="1029.3" cy="160.1" r="4.9"/>
<circle cx="1035.2" cy="160.1" r="4.9"/>
<circle cx="1031.8" cy="235.9" r="4.9"/>
<circle cx="1081.1" cy="247.6" r="4.9"/>
<circle cx="1073.6" cy="252.6" r="4.9"/>
<circle cx="1070.2" cy="257.6" r="4.9"/>
<circle cx="1032.7" cy="251.8" r="4.9"/>
<circle cx="1025.1" cy="257.6" r="4.9"/>
<circle cx="1038.5" cy="255.1" r="4.9"/>
<circle cx="1041.8" cy="260.1" r="4.9"/>
<circle cx="1047.7" cy="258.4" r="4.9"/>
<circle cx="1050.2" cy="261.8" r="4.9"/>
<circle cx="1059.4" cy="265.1" r="4.9"/>
<circle cx="1056.0" cy="269.3" r="4.9"/>
<circle cx="1064.4" cy="271.8" r="4.9"/>
<circle cx="1071.0" cy="277.6" r="4.9"/>
<circle cx="1077.7" cy="281.8" r="4.9"/>
<circle cx="1076.9" cy="292.6" r="4.9"/>
<circle cx="1091.9" cy="291.0" r="4.9"/>
<circle cx="1087.7" cy="296.0" r="4.9"/>
<circle cx="1088.6" cy="300.2" r="4.9"/>
<circle cx="1102.8" cy="288.5" r="4.9"/>
<circle cx="1100.3" cy="293.5" r="4.9"/>
<circle cx="889.1" cy="277.8" r="4.9"/>
<circle cx="894.5" cy="280.5" r="4.9"/>
<circle cx="885.5" cy="283.2" r="4.9"/>
<circle cx="899.8" cy="285.0" r="4.9"/>
<circle cx="904.3" cy="289.4" r="4.9"/>
<circle cx="880.2" cy="281.4" r="4.9"/>
<circle cx="890.9" cy="286.7" r="4.9"/>
<circle cx="837.4" cy="289.4" r="4.9"/>
<circle cx="842.8" cy="297.4" r="4.9"/>
<circle cx="831.2" cy="286.7" r="4.9"/>
<circle cx="849.9" cy="295.6" r="4.9"/>
<circle cx="855.2" cy="286.7" r="4.9"/>
<circle cx="862.4" cy="289.4" r="4.9"/>
<circle cx="865.9" cy="282.3" r="4.9"/>
<circle cx="810.7" cy="281.4" r="4.9"/>
<circle cx="808.9" cy="276.0" r="4.9"/>
<circle cx="804.5" cy="279.6" r="4.9"/>
<circle cx="813.4" cy="286.7" r="4.9"/>
<circle cx="824.7" cy="263.9" r="4.9"/>
<circle cx="776.9" cy="246.3" r="4.9"/>
<circle cx="783.2" cy="247.6" r="4.9"/>
<circle cx="702.6" cy="305.5" r="4.9"/>
<circle cx="697.6" cy="295.4" r="4.9"/>
<circle cx="723.3" cy="331.0" r="4.9"/>
<circle cx="731.0" cy="328.7" r="4.9"/>
<circle cx="745.8" cy="330.4" r="4.9"/>
<circle cx="766.6" cy="334.6" r="4.9"/>
<circle cx="764.3" cy="320.9" r="4.9"/>
<circle cx="685.6" cy="296.9" r="4.9"/>
<circle cx="693.7" cy="302.3" r="4.9"/>
<circle cx="704.4" cy="307.6" r="4.9"/>
<circle cx="709.7" cy="296.9" r="4.9"/>
<circle cx="699.0" cy="288.9" r="4.9"/>
<circle cx="715.0" cy="313.0" r="4.9"/>
<circle cx="691.0" cy="286.2" r="4.9"/>
<circle cx="723.1" cy="302.3" r="4.9"/>
<circle cx="707.0" cy="283.6" r="4.9"/>
<circle cx="699.0" cy="361.1" r="4.9"/>
<circle cx="705.7" cy="366.4" r="4.9"/>
<circle cx="693.7" cy="366.4" r="4.9"/>
<circle cx="709.7" cy="374.5" r="4.9"/>
<circle cx="701.7" cy="374.5" r="4.9"/>
<circle cx="725.7" cy="350.4" r="4.9"/>
<circle cx="731.1" cy="361.1" r="4.9"/>
<circle cx="757.8" cy="291.6" r="4.9"/>
<circle cx="747.1" cy="302.3" r="4.9"/>
<circle cx="763.2" cy="296.9" r="4.9"/>
<circle cx="768.5" cy="286.2" r="4.9"/>
<circle cx="779.2" cy="296.9" r="4.9"/>
<circle cx="827.3" cy="291.6" r="4.9"/>
<circle cx="838.0" cy="296.9" r="4.9"/>
<circle cx="848.7" cy="291.6" r="4.9"/>
<circle cx="832.7" cy="302.3" r="4.9"/>
<circle cx="859.4" cy="296.9" r="4.9"/>
<circle cx="843.4" cy="283.6" r="4.9"/>
<circle cx="824.7" cy="262.2" r="4.9"/>
<circle cx="811.3" cy="270.2" r="4.9"/>
</g>
<g fill="#ff0000">
<circle cx="381.1" cy="84.5" r="4.9"/>
<circle cx="386.2" cy="96.7" r="4.9"/>
<circle cx="398.9" cy="90.6" r="4.9"/>
<circle cx="403.4" cy="87.1" r="4.9"/>
<circle cx="408.1" cy="84.2" r="4.9"/>
<circle cx="416.0" cy="83.9" r="4.9"/>
<circle cx="418.8" cy="85.4" r="4.9"/>
<circle cx="418.0" cy="96.7" r="4.9"/>
<circle cx="422.6" cy="107.2" r="4.9"/>
<circle cx="415.6" cy="110.4" r="4.9"/>
<circle cx="412.1" cy="114.3" r="4.9"/>
<circle cx="357.2" cy="172.6" r="4.9"/>
<circle cx="360.9" cy="180.1" r="4.9"/>
<circle cx="361.7" cy="185.1" r="4.9"/>
<circle cx="370.6" cy="180.1" r="4.9"/>
<circle cx="374.2" cy="186.7" r="4.9"/>
<circle cx="370.1" cy="189.3" r="4.9"/>
<circle cx="365.6" cy="200.1" r="4.9"/>
<circle cx="410.9" cy="534.2" r="4.9"/>
<circle cx="415.9" cy="535.9" r="4.9"/>
<circle cx="427.6" cy="529.7" r="4.9"/>
<circle cx="436.7" cy="533.4" r="4.9"/>
<circle cx="427.6" cy="538.4" r="4.9"/>
<circle cx="431.7" cy="542.6" r="4.9"/>
<circle cx="415.9" cy="547.6" r="4.9"/>
<circle cx="420.0" cy="547.6" r="4.9"/>
<circle cx="436.4" cy="548.4" r="4.9"/>
<circle cx="448.4" cy="534.2" r="4.9"/>
<circle cx="461.8" cy="520.5" r="4.9"/>
<circle cx="475.1" cy="520.9" r="4.9"/>
<circle cx="473.5" cy="525.9" r="4.9"/>
<circle cx="460.9" cy="532.6" r="4.9"/>
<circle cx="471.8" cy="531.7" r="4.9"/>
<circle cx="478.5" cy="534.2" r="4.9"/>
<circle cx="459.3" cy="537.6" r="4.9"/>
<circle cx="466.8" cy="538.4" r="4.9"/>
<circle cx="473.5" cy="540.1" r="4.9"/>
<circle cx="461.8" cy="543.4" r="4.9"/>
<circle cx="468.4" cy="545.1" r="4.9"/>
<circle cx="475.1" cy="544.2" r="4.9"/>
<circle cx="460.1" cy="548.4" r="4.9"/>
<circle cx="465.9" cy="551.8" r="4.9"/>
<circle cx="460.9" cy="560.9" r="4.9"/>
<circle cx="466.8" cy="564.3" r="4.9"/>
<circle cx="478.5" cy="560.1" r="4.9"/>
<circle cx="482.6" cy="561.8" r="4.9"/>
<circle cx="484.3" cy="554.3" r="4.9"/>
<circle cx="491.0" cy="531.7" r="4.9"/>
<circle cx="502.2" cy="529.2" r="4.9"/>
<circle cx="493.5" cy="537.6" r="4.9"/>
<circle cx="496.8" cy="554.3" r="4.9"/>
<circle cx="500.2" cy="557.6" r="4.9"/>
<circle cx="505.2" cy="547.6" r="4.9"/>
<circle cx="510.2" cy="546.7" r="4.9"/>
<circle cx="515.2" cy="549.3" r="4.9"/>
<circle cx="517.7" cy="539.2" r="4.9"/>
<circle cx="521.9" cy="535.1" r="4.9"/>
<circle cx="524.4" cy="529.2" r="4.9"/>
<circle cx="523.5" cy="541.7" r="4.9"/>
<circle cx="526.0" cy="545.9" r="4.9"/>
<circle cx="526.9" cy="551.8" r="4.9"/>
<circle cx="533.5" cy="546.7" r="4.9"/>
<circle cx="538.5" cy="547.6" r="4.9"/>
<circle cx="490.1" cy="551.8" r="4.9"/>
<circle cx="1303.3" cy="128.7" r="4.9"/>
<circle cx="1295.2" cy="140.4" r="4.9"/>
<circle cx="1299.4" cy="140.9" r="4.9"/>
<circle cx="1302.8" cy="145.9" r="4.9"/>
<circle cx="1303.6" cy="151.7" r="4.9"/>
<circle cx="1306.1" cy="155.1" r="4.9"/>
<circle cx="1291.9" cy="162.6" r="4.9"/>
<circle cx="1300.2" cy="160.9" r="4.9"/>
<circle cx="1296.9" cy="165.9" r="4.9"/>
<circle cx="1307.8" cy="168.4" r="4.9"/>
<circle cx="1303.6" cy="169.3" r="4.9"/>
<circle cx="1298.6" cy="173.4" r="4.9"/>
<circle cx="1315.3" cy="180.9" r="4.9"/>
<circle cx="1262.2" cy="281.7" r="4.9"/>
<circle cx="1272.2" cy="285.9" r="4.9"/>
<circle cx="1259.4" cy="290.0" r="4.9"/>
<circle cx="1266.0" cy="291.7" r="4.9"/>
<circle cx="1254.3" cy="301.7" r="4.9"/>
<circle cx="1258.5" cy="300.0" r="4.9"/>
<circle cx="1245.2" cy="307.6" r="4.9"/>
<circle cx="1251.8" cy="308.4" r="4.9"/>
<circle cx="1258.5" cy="310.1" r="4.9"/>
<circle cx="1263.5" cy="311.7" r="4.9"/>
<circle cx="1249.3" cy="315.9" r="4.9"/>
<circle cx="1268.5" cy="298.4" r="4.9"/>
<circle cx="1253.5" cy="315.1" r="4.9"/>
<circle cx="1003.4" cy="388.4" r="4.9"/>
<circle cx="1010.1" cy="400.9" r="4.9"/>
<circle cx="1002.6" cy="404.3" r="4.9"/>
<circle cx="1011.7" cy="406.0" r="4.9"/>
<circle cx="1001.7" cy="411.0" r="4.9"/>
<circle cx="1005.9" cy="416.8" r="4.9"/>
<circle cx="1008.4" cy="418.5" r="4.9"/>
<circle cx="1015.9" cy="423.1" r="4.9"/>
<circle cx="1053.4" cy="543.4" r="4.9"/>
<circle cx="1051.7" cy="547.6" r="4.9"/>
<circle cx="1064.3" cy="545.1" r="4.9"/>
<circle cx="1072.6" cy="546.7" r="4.9"/>
<circle cx="1081.8" cy="549.2" r="4.9"/>
<circle cx="1057.6" cy="551.7" r="4.9"/>
<circle cx="1065.1" cy="551.7" r="4.9"/>
<circle cx="1060.1" cy="559.3" r="4.9"/>
<circle cx="1071.8" cy="560.1" r="4.9"/>
<circle cx="1028.7" cy="556.7" r="4.9"/>
<circle cx="1036.7" cy="555.1" r="4.9"/>
<circle cx="1043.1" cy="556.7" r="4.9"/>
<circle cx="1037.6" cy="562.6" r="4.9"/>
<circle cx="1039.2" cy="569.3" r="4.9"/>
<circle cx="1082.6" cy="568.4" r="4.9"/>
<circle cx="1086.0" cy="573.4" r="4.9"/>
<circle cx="1090.5" cy="580.1" r="4.9"/>
<circle cx="1097.3" cy="589.3" r="4.9"/>
<circle cx="1061.9" cy="552.2" r="4.9"/>
<circle cx="1059.0" cy="555.0" r="4.9"/>
</g>
<g fill="#008000">
<circle cx="280.1" cy="541.8" r="4.9"/>
<circle cx="282.6" cy="545.1" r="4.9"/>
<circle cx="284.3" cy="549.3" r="4.9"/>
<circle cx="285.1" cy="554.3" r="4.9"/>
<circle cx="286.0" cy="558.5" r="4.9"/>
<circle cx="286.8" cy="563.5" r="4.9"/>
<circle cx="293.5" cy="567.6" r="4.9"/>
<circle cx="293.0" cy="574.3" r="4.9"/>
<circle cx="450.1" cy="341.3" r="4.9"/>
<circle cx="438.1" cy="350.0" r="4.9"/>
<circle cx="440.4" cy="355.0" r="4.9"/>
<circle cx="454.3" cy="362.5" r="4.9"/>
<circle cx="456.8" cy="367.6" r="4.9"/>
<circle cx="467.7" cy="371.7" r="4.9"/>
<circle cx="483.0" cy="373.7" r="4.9"/>
<circle cx="479.3" cy="384.2" r="4.9"/>
<circle cx="486.0" cy="385.9" r="4.9"/>
<circle cx="466.0" cy="391.8" r="4.9"/>
<circle cx="491.9" cy="390.9" r="4.9"/>
<circle cx="495.2" cy="392.6" r="4.9"/>
<circle cx="475.2" cy="396.8" r="4.9"/>
<circle cx="481.8" cy="395.9" r="4.9"/>
<circle cx="505.2" cy="397.6" r="4.9"/>
<circle cx="496.0" cy="400.1" r="4.9"/>
<circle cx="516.9" cy="401.8" r="4.9"/>
<circle cx="476.8" cy="405.1" r="4.9"/>
<circle cx="484.3" cy="404.3" r="4.9"/>
<circle cx="490.2" cy="408.4" r="4.9"/>
<circle cx="456.8" cy="405.9" r="4.9"/>
<circle cx="453.5" cy="410.1" r="4.9"/>
<circle cx="465.1" cy="410.1" r="4.9"/>
<circle cx="491.9" cy="411.8" r="4.9"/>
<circle cx="456.0" cy="418.5" r="4.9"/>
<circle cx="484.3" cy="416.8" r="4.9"/>
<circle cx="491.9" cy="421.0" r="4.9"/>
<circle cx="476.0" cy="428.5" r="4.9"/>
<circle cx="391.2" cy="419.4" r="4.9"/>
<circle cx="407.2" cy="416.4" r="4.9"/>
<circle cx="400.9" cy="424.2" r="4.9"/>
<circle cx="411.7" cy="423.4" r="4.9"/>
<circle cx="425.9" cy="423.0" r="4.9"/>
<circle cx="410.1" cy="430.0" r="4.9"/>
<circle cx="425.1" cy="434.2" r="4.9"/>
<circle cx="400.1" cy="440.1" r="4.9"/>
<circle cx="415.1" cy="438.4" r="4.9"/>
<circle cx="419.3" cy="436.7" r="4.9"/>
<circle cx="406.7" cy="443.4" r="4.9"/>
<circle cx="417.6" cy="445.9" r="4.9"/>
<circle cx="416.7" cy="450.9" r="4.9"/>
<circle cx="428.4" cy="445.9" r="4.9"/>
<circle cx="435.1" cy="447.6" r="4.9"/>
<circle cx="441.8" cy="447.6" r="4.9"/>
<circle cx="447.3" cy="422.5" r="4.9"/>
<circle cx="452.6" cy="434.2" r="4.9"/>
<circle cx="465.1" cy="434.2" r="4.9"/>
<circle cx="456.0" cy="440.9" r="4.9"/>
<circle cx="476.3" cy="444.2" r="4.9"/>
<circle cx="460.1" cy="445.1" r="4.9"/>
<circle cx="454.3" cy="448.4" r="4.9"/>
<circle cx="463.5" cy="448.4" r="4.9"/>
<circle cx="470.2" cy="451.7" r="4.9"/>
<circle cx="459.3" cy="452.6" r="4.9"/>
<circle cx="476.3" cy="429.2" r="4.9"/>
<circle cx="768.6" cy="400.8" r="4.9"/>
<circle cx="763.6" cy="404.2" r="4.9"/>
<circle cx="766.9" cy="409.2" r="4.9"/>
<circle cx="769.4" cy="414.2" r="4.9"/>
<circle cx="781.1" cy="410.0" r="4.9"/>
<circle cx="796.1" cy="410.0" r="4.9"/>
<circle cx="810.3" cy="412.5" r="4.9"/>
<circle cx="757.7" cy="420.9" r="4.9"/>
<circle cx="752.7" cy="422.5" r="4.9"/>
<circle cx="748.5" cy="425.0" r="4.9"/>
<circle cx="742.7" cy="428.4" r="4.9"/>
<circle cx="756.1" cy="430.9" r="4.9"/>
<circle cx="736.9" cy="439.2" r="4.9"/>
<circle cx="756.9" cy="437.6" r="4.9"/>
<circle cx="791.9" cy="425.0" r="4.9"/>
<circle cx="798.6" cy="428.4" r="4.9"/>
<circle cx="805.3" cy="425.0" r="4.9"/>
<circle cx="810.3" cy="427.5" r="4.9"/>
<circle cx="800.3" cy="431.7" r="4.9"/>
<circle cx="796.1" cy="441.7" r="4.9"/>
<circle cx="929.4" cy="376.4" r="4.9"/>
<circle cx="917.7" cy="390.1" r="4.9"/>
<circle cx="929.4" cy="389.3" r="4.9"/>
<circle cx="916.9" cy="395.6" r="4.9"/>
<circle cx="932.7" cy="392.6" r="4.9"/>
<circle cx="928.5" cy="398.5" r="4.9"/>
<circle cx="933.6" cy="406.8" r="4.9"/>
<circle cx="938.6" cy="410.2" r="4.9"/>
<circle cx="948.6" cy="406.8" r="4.9"/>
<circle cx="930.2" cy="401.8" r="4.9"/>
<circle cx="1217.6" cy="140.1" r="4.9"/>
<circle cx="1182.6" cy="147.6" r="4.9"/>
<circle cx="1180.9" cy="150.9" r="4.9"/>
<circle cx="1195.1" cy="151.7" r="4.9"/>
<circle cx="1216.0" cy="151.7" r="4.9"/>
<circle cx="1189.3" cy="157.6" r="4.9"/>
<circle cx="1195.1" cy="156.7" r="4.9"/>
<circle cx="1172.1" cy="162.6" r="4.9"/>
<circle cx="1190.9" cy="165.1" r="4.9"/>
<circle cx="1202.6" cy="161.8" r="4.9"/>
<circle cx="1211.0" cy="165.1" r="4.9"/>
<circle cx="1217.6" cy="172.6" r="4.9"/>
<circle cx="1194.3" cy="174.3" r="4.9"/>
<circle cx="1201.8" cy="171.8" r="4.9"/>
<circle cx="1206.8" cy="173.4" r="4.9"/>
<circle cx="1189.3" cy="180.9" r="4.9"/>
<circle cx="1210.1" cy="179.3" r="4.9"/>
<circle cx="1137.5" cy="348.4" r="4.9"/>
<circle cx="1141.7" cy="347.6" r="4.9"/>
<circle cx="1146.7" cy="348.4" r="4.9"/>
<circle cx="1132.5" cy="356.8" r="4.9"/>
<circle cx="1141.7" cy="354.3" r="4.9"/>
<circle cx="1145.9" cy="366.8" r="4.9"/>
<circle cx="1156.7" cy="366.0" r="4.9"/>
<circle cx="1146.7" cy="372.6" r="4.9"/>
<circle cx="1145.0" cy="360.1" r="4.9"/>
<circle cx="407.5" cy="438.7" r="4.9"/>
<circle cx="411.2" cy="443.1" r="4.9"/>
<circle cx="412.7" cy="432.7" r="4.9"/>
<circle cx="479.6" cy="400.8" r="4.9"/>
<circle cx="487.7" cy="397.8" r="4.9"/>
<circle cx="484.0" cy="410.4" r="4.9"/>
<circle cx="478.8" cy="409.7" r="4.9"/>
</g>
<g fill="#00bfbf">
<circle cx="543.4" cy="89.2" r="4.9"/>
<circle cx="550.6" cy="94.2" r="4.9"/>
<circle cx="551.1" cy="97.5" r="4.9"/>
<circle cx="553.1" cy="110.1" r="4.9"/>
<circle cx="544.2" cy="120.6" r="4.9"/>
<circle cx="549.2" cy="119.2" r="4.9"/>
<circle cx="547.6" cy="127.6" r="4.9"/>
<circle cx="551.7" cy="129.3" r="4.9"/>
<circle cx="554.7" cy="130.1" r="4.9"/>
<circle cx="562.1" cy="141.8" r="4.9"/>
<circle cx="570.1" cy="145.9" r="4.9"/>
<circle cx="572.1" cy="149.8" r="4.9"/>
<circle cx="569.3" cy="153.8" r="4.9"/>
<circle cx="565.6" cy="168.9" r="4.9"/>
<circle cx="588.5" cy="165.9" r="4.9"/>
<circle cx="579.8" cy="171.7" r="4.9"/>
<circle cx="583.5" cy="175.0" r="4.9"/>
<circle cx="593.5" cy="174.2" r="4.9"/>
<circle cx="600.1" cy="178.4" r="4.9"/>
<circle cx="578.1" cy="186.4" r="4.9"/>
<circle cx="572.6" cy="193.7" r="4.9"/>
<circle cx="575.4" cy="197.6" r="4.9"/>
<circle cx="583.5" cy="199.2" r="4.9"/>
<circle cx="588.5" cy="201.7" r="4.9"/>
<circle cx="593.5" cy="203.4" r="4.9"/>
<circle cx="598.5" cy="201.7" r="4.9"/>
<circle cx="596.8" cy="191.7" r="4.9"/>
<circle cx="598.5" cy="187.6" r="4.9"/>
<circle cx="603.5" cy="185.4" r="4.9"/>
<circle cx="596.0" cy="196.7" r="4.9"/>
<circle cx="611.5" cy="202.1" r="4.9"/>
<circle cx="575.9" cy="209.8" r="4.9"/>
<circle cx="599.0" cy="212.1" r="4.9"/>
<circle cx="586.8" cy="223.1" r="4.9"/>
<circle cx="591.0" cy="222.3" r="4.9"/>
<circle cx="601.0" cy="225.1" r="4.9"/>
<circle cx="602.3" cy="229.3" r="4.9"/>
<circle cx="603.1" cy="233.5" r="4.9"/>
<circle cx="603.8" cy="238.5" r="4.9"/>
<circle cx="604.3" cy="244.3" r="4.9"/>
<circle cx="403.1" cy="170.9" r="4.9"/>
<circle cx="405.9" cy="174.2" r="4.9"/>
<circle cx="413.5" cy="175.9" r="4.9"/>
<circle cx="408.4" cy="180.9" r="4.9"/>
<circle cx="446.5" cy="156.7" r="4.9"/>
<circle cx="435.6" cy="160.9" r="4.9"/>
<circle cx="428.5" cy="167.6" r="4.9"/>
<circle cx="426.0" cy="172.6" r="4.9"/>
<circle cx="439.3" cy="175.1" r="4.9"/>
<circle cx="446.8" cy="170.9" r="4.9"/>
<circle cx="450.2" cy="166.7" r="4.9"/>
<circle cx="436.8" cy="168.4" r="4.9"/>
<circle cx="443.5" cy="173.4" r="4.9"/>
<circle cx="259.6" cy="284.8" r="4.9"/>
<circle cx="253.1" cy="294.8" r="4.9"/>
<circle cx="231.7" cy="302.1" r="4.9"/>
<circle cx="240.1" cy="302.1" r="4.9"/>
<circle cx="229.2" cy="305.9" r="4.9"/>
<circle cx="235.0" cy="308.5" r="4.9"/>
<circle cx="232.5" cy="314.3" r="4.9"/>
<circle cx="238.4" cy="314.3" r="4.9"/>
<circle cx="231.7" cy="319.8" r="4.9"/>
<circle cx="243.4" cy="308.5" r="4.9"/>
<circle cx="350.2" cy="354.7" r="4.9"/>
<circle cx="352.2" cy="360.1" r="4.9"/>
<circle cx="351.0" cy="373.4" r="4.9"/>
<circle cx="370.6" cy="373.4" r="4.9"/>
<circle cx="351.0" cy="379.3" r="4.9"/>
<circle cx="356.9" cy="381.8" r="4.9"/>
<circle cx="352.7" cy="386.8" r="4.9"/>
<circle cx="381.1" cy="381.8" r="4.9"/>
<circle cx="357.7" cy="391.0" r="4.9"/>
<circle cx="351.5" cy="396.8" r="4.9"/>
<circle cx="361.9" cy="398.5" r="4.9"/>
<circle cx="356.9" cy="401.8" r="4.9"/>
<circle cx="292.3" cy="419.6" r="4.9"/>
<circle cx="285.1" cy="427.2" r="4.9"/>
<circle cx="295.1" cy="426.7" r="4.9"/>
<circle cx="292.6" cy="431.7" r="4.9"/>
<circle cx="289.3" cy="437.6" r="4.9"/>
<circle cx="296.8" cy="438.4" r="4.9"/>
<circle cx="300.1" cy="442.6" r="4.9"/>
<circle cx="356.9" cy="415.6" r="4.9"/>
<circle cx="351.0" cy="419.2" r="4.9"/>
<circle cx="1014.8" cy="212.5" r="4.9"/>
<circle cx="1006.0" cy="213.4" r="4.9"/>
<circle cx="1002.6" cy="218.4" r="4.9"/>
<circle cx="1000.1" cy="223.4" r="4.9"/>
<circle cx="1001.8" cy="229.2" r="4.9"/>
<circle cx="995.1" cy="233.7" r="4.9"/>
<circle cx="1006.8" cy="235.1" r="4.9"/>
<circle cx="971.7" cy="236.7" r="4.9"/>
<circle cx="981.8" cy="240.1" r="4.9"/>
<circle cx="978.4" cy="243.4" r="4.9"/>
<circle cx="956.7" cy="245.1" r="4.9"/>
<circle cx="961.7" cy="245.9" r="4.9"/>
<circle cx="950.0" cy="249.3" r="4.9"/>
<circle cx="973.4" cy="250.1" r="4.9"/>
<circle cx="950.0" cy="257.6" r="4.9"/>
<circle cx="970.1" cy="255.9" r="4.9"/>
<circle cx="975.1" cy="256.8" r="4.9"/>
<circle cx="965.1" cy="263.4" r="4.9"/>
<circle cx="978.7" cy="265.9" r="4.9"/>
<circle cx="970.9" cy="283.5" r="4.9"/>
<circle cx="982.6" cy="278.5" r="4.9"/>
<circle cx="987.6" cy="281.8" r="4.9"/>
<circle cx="980.9" cy="286.0" r="4.9"/>
<circle cx="996.3" cy="287.6" r="4.9"/>
<circle cx="1049.3" cy="343.4" r="4.9"/>
<circle cx="1046.8" cy="347.5" r="4.9"/>
<circle cx="1051.0" cy="350.0" r="4.9"/>
<circle cx="1055.1" cy="352.5" r="4.9"/>
<circle cx="1061.0" cy="355.9" r="4.9"/>
<circle cx="1070.2" cy="359.6" r="4.9"/>
</g>
<g fill="#bf00bf">
<circle cx="581.9" cy="80.9" r="4.9"/>
<circle cx="592.0" cy="85.0" r="4.9"/>
<circle cx="598.5" cy="85.4" r="4.9"/>
<circle cx="566.8" cy="91.2" r="4.9"/>
<circle cx="583.5" cy="90.0" r="4.9"/>
<circle cx="567.9" cy="99.2" r="4.9"/>
<circle cx="572.6" cy="102.6" r="4.9"/>
<circle cx="586.0" cy="100.9" r="4.9"/>
<circle cx="264.3" cy="316.7" r="4.9"/>
<circle cx="260.4" cy="320.9" r="4.9"/>
<circle cx="268.4" cy="325.0" r="4.9"/>
<circle cx="251.7" cy="331.7" r="4.9"/>
<circle cx="256.7" cy="331.7" r="4.9"/>
<circle cx="243.7" cy="335.9" r="4.9"/>
<circle cx="264.3" cy="335.9" r="4.9"/>
<circle cx="263.4" cy="342.6" r="4.9"/>
<circle cx="245.9" cy="345.1" r="4.9"/>
<circle cx="245.1" cy="350.9" r="4.9"/>
<circle cx="257.6" cy="355.9" r="4.9"/>
<circle cx="342.4" cy="320.9" r="4.9"/>
<circle cx="354.4" cy="326.7" r="4.9"/>
<circle cx="349.4" cy="330.5" r="4.9"/>
<circle cx="371.9" cy="324.2" r="4.9"/>
<circle cx="367.7" cy="327.5" r="4.9"/>
<circle cx="366.9" cy="333.4" r="4.9"/>
<circle cx="372.7" cy="337.6" r="4.9"/>
<circle cx="369.4" cy="344.2" r="4.9"/>
<circle cx="383.6" cy="345.1" r="4.9"/>
<circle cx="376.9" cy="348.4" r="4.9"/>
<circle cx="380.3" cy="354.2" r="4.9"/>
<circle cx="274.3" cy="407.5" r="4.9"/>
<circle cx="273.4" cy="413.4" r="4.9"/>
<circle cx="268.4" cy="420.1" r="4.9"/>
<circle cx="275.1" cy="420.9" r="4.9"/>
<circle cx="271.8" cy="425.9" r="4.9"/>
<circle cx="280.1" cy="425.1" r="4.9"/>
<circle cx="265.9" cy="430.1" r="4.9"/>
<circle cx="275.9" cy="430.1" r="4.9"/>
<circle cx="264.3" cy="440.1" r="4.9"/>
<circle cx="272.6" cy="452.6" r="4.9"/>
<circle cx="236.7" cy="440.1" r="4.9"/>
<circle cx="235.9" cy="443.4" r="4.9"/>
<circle cx="242.6" cy="453.4" r="4.9"/>
<circle cx="248.4" cy="453.4" r="4.9"/>
<circle cx="254.2" cy="458.4" r="4.9"/>
<circle cx="263.1" cy="460.4" r="4.9"/>
<circle cx="257.6" cy="463.5" r="4.9"/>
<circle cx="250.1" cy="466.8" r="4.9"/>
<circle cx="263.4" cy="469.3" r="4.9"/>
<circle cx="267.6" cy="474.3" r="4.9"/>
<circle cx="249.7" cy="480.1" r="4.9"/>
<circle cx="255.1" cy="487.7" r="4.9"/>
<circle cx="773.6" cy="445.9" r="4.9"/>
<circle cx="781.1" cy="454.2" r="4.9"/>
<circle cx="761.1" cy="456.7" r="4.9"/>
<circle cx="760.2" cy="460.9" r="4.9"/>
<circle cx="765.2" cy="464.3" r="4.9"/>
<circle cx="770.2" cy="466.8" r="4.9"/>
<circle cx="774.4" cy="471.8" r="4.9"/>
<circle cx="809.2" cy="160.5" r="4.9"/>
<circle cx="805.9" cy="164.2" r="4.9"/>
<circle cx="810.9" cy="174.2" r="4.9"/>
<circle cx="817.6" cy="177.6" r="4.9"/>
<circle cx="825.1" cy="179.2" r="4.9"/>
<circle cx="835.1" cy="176.7" r="4.9"/>
<circle cx="847.6" cy="176.4" r="4.9"/>
<circle cx="851.8" cy="177.1" r="4.9"/>
<circle cx="812.5" cy="182.6" r="4.9"/>
<circle cx="821.7" cy="184.2" r="4.9"/>
<circle cx="830.1" cy="183.4" r="4.9"/>
<circle cx="838.4" cy="185.1" r="4.9"/>
<circle cx="821.7" cy="191.7" r="4.9"/>
<circle cx="823.4" cy="197.6" r="4.9"/>
<circle cx="819.2" cy="207.6" r="4.9"/>
<circle cx="825.1" cy="205.1" r="4.9"/>
<circle cx="831.7" cy="206.8" r="4.9"/>
<circle cx="838.4" cy="205.9" r="4.9"/>
<circle cx="841.8" cy="210.1" r="4.9"/>
<circle cx="823.4" cy="212.6" r="4.9"/>
<circle cx="833.4" cy="213.4" r="4.9"/>
<circle cx="841.8" cy="216.8" r="4.9"/>
<circle cx="844.3" cy="222.6" r="4.9"/>
<circle cx="834.2" cy="222.6" r="4.9"/>
<circle cx="815.6" cy="220.1" r="4.9"/>
<circle cx="808.0" cy="227.6" r="4.9"/>
<circle cx="825.4" cy="231.0" r="4.9"/>
<circle cx="820.1" cy="202.6" r="4.9"/>
<circle cx="828.4" cy="190.1" r="4.9"/>
<circle cx="1252.7" cy="186.5" r="4.9"/>
<circle cx="1263.5" cy="191.0" r="4.9"/>
<circle cx="1253.5" cy="196.8" r="4.9"/>
<circle cx="1260.2" cy="196.8" r="4.9"/>
<circle cx="1251.0" cy="201.8" r="4.9"/>
<circle cx="1249.3" cy="206.0" r="4.9"/>
<circle cx="1246.8" cy="211.0" r="4.9"/>
<circle cx="827.3" cy="211.4" r="4.9"/>
<circle cx="835.3" cy="216.7" r="4.9"/>
<circle cx="822.0" cy="206.0" r="4.9"/>
<circle cx="840.7" cy="211.4" r="4.9"/>
<circle cx="832.7" cy="206.0" r="4.9"/>
</g>
<g fill="#bfbf00">
<circle cx="463.0" cy="197.5" r="4.9"/>
<circle cx="454.3" cy="210.4" r="4.9"/>
<circle cx="458.4" cy="211.7" r="4.9"/>
<circle cx="444.8" cy="217.1" r="4.9"/>
<circle cx="455.1" cy="218.4" r="4.9"/>
<circle cx="468.1" cy="214.5" r="4.9"/>
<circle cx="471.8" cy="215.0" r="4.9"/>
<circle cx="476.3" cy="218.1" r="4.9"/>
<circle cx="450.1" cy="223.4" r="4.9"/>
<circle cx="460.1" cy="225.9" r="4.9"/>
<circle cx="450.9" cy="232.6" r="4.9"/>
<circle cx="461.8" cy="230.1" r="4.9"/>
<circle cx="478.0" cy="231.7" r="4.9"/>
<circle cx="480.1" cy="235.1" r="4.9"/>
<circle cx="450.9" cy="245.9" r="4.9"/>
<circle cx="455.9" cy="243.4" r="4.9"/>
<circle cx="450.1" cy="235.1" r="4.9"/>
<circle cx="486.8" cy="241.8" r="4.9"/>
<circle cx="493.5" cy="243.4" r="4.9"/>
<circle cx="455.9" cy="251.8" r="4.9"/>
<circle cx="458.4" cy="256.8" r="4.9"/>
<circle cx="461.8" cy="260.1" r="4.9"/>
<circle cx="449.3" cy="262.6" r="4.9"/>
<circle cx="484.3" cy="262.6" r="4.9"/>
<circle cx="483.5" cy="251.8" r="4.9"/>
<circle cx="470.1" cy="263.5" r="4.9"/>
<circle cx="465.1" cy="268.5" r="4.9"/>
<circle cx="473.5" cy="267.6" r="4.9"/>
<circle cx="478.5" cy="270.1" r="4.9"/>
<circle cx="440.1" cy="271.8" r="4.9"/>
<circle cx="450.1" cy="271.8" r="4.9"/>
<circle cx="456.8" cy="271.8" r="4.9"/>
<circle cx="443.4" cy="280.1" r="4.9"/>
<circle cx="455.9" cy="276.0" r="4.9"/>
<circle cx="475.1" cy="281.0" r="4.9"/>
<circle cx="476.3" cy="286.0" r="4.9"/>
<circle cx="430.1" cy="459.3" r="4.9"/>
<circle cx="434.3" cy="458.4" r="4.9"/>
<circle cx="440.1" cy="462.6" r="4.9"/>
<circle cx="423.4" cy="470.1" r="4.9"/>
<circle cx="430.1" cy="472.6" r="4.9"/>
<circle cx="451.0" cy="469.3" r="4.9"/>
<circle cx="451.8" cy="476.8" r="4.9"/>
<circle cx="462.3" cy="479.3" r="4.9"/>
<circle cx="439.3" cy="481.8" r="4.9"/>
<circle cx="432.3" cy="496.8" r="4.9"/>
<circle cx="693.8" cy="499.2" r="4.9"/>
<circle cx="701.0" cy="502.6" r="4.9"/>
<circle cx="707.7" cy="504.2" r="4.9"/>
<circle cx="702.6" cy="508.4" r="4.9"/>
<circle cx="678.4" cy="509.2" r="4.9"/>
<circle cx="673.4" cy="511.7" r="4.9"/>
<circle cx="670.1" cy="516.7" r="4.9"/>
<circle cx="671.8" cy="522.6" r="4.9"/>
<circle cx="656.7" cy="524.3" r="4.9"/>
<circle cx="658.4" cy="528.4" r="4.9"/>
<circle cx="667.6" cy="531.8" r="4.9"/>
<circle cx="678.4" cy="527.6" r="4.9"/>
<circle cx="683.5" cy="525.1" r="4.9"/>
<circle cx="692.6" cy="528.4" r="4.9"/>
<circle cx="700.1" cy="518.4" r="4.9"/>
<circle cx="696.0" cy="523.4" r="4.9"/>
<circle cx="886.0" cy="368.4" r="4.9"/>
<circle cx="882.6" cy="371.8" r="4.9"/>
<circle cx="896.8" cy="375.9" r="4.9"/>
<circle cx="874.3" cy="380.1" r="4.9"/>
<circle cx="880.1" cy="382.6" r="4.9"/>
<circle cx="871.0" cy="387.6" r="4.9"/>
<circle cx="883.5" cy="387.6" r="4.9"/>
<circle cx="887.7" cy="396.8" r="4.9"/>
<circle cx="890.2" cy="378.4" r="4.9"/>
<circle cx="940.9" cy="132.5" r="4.9"/>
<circle cx="959.3" cy="134.2" r="4.9"/>
<circle cx="940.9" cy="142.5" r="4.9"/>
<circle cx="945.1" cy="143.4" r="4.9"/>
<circle cx="940.1" cy="147.6" r="4.9"/>
<circle cx="958.4" cy="149.2" r="4.9"/>
<circle cx="955.1" cy="140.0" r="4.9"/>
<circle cx="1014.5" cy="466.7" r="4.9"/>
<circle cx="1022.6" cy="470.9" r="4.9"/>
<circle cx="1006.7" cy="478.4" r="4.9"/>
<circle cx="1014.2" cy="481.8" r="4.9"/>
<circle cx="1021.7" cy="480.1" r="4.9"/>
<circle cx="1015.0" cy="485.9" r="4.9"/>
<circle cx="1029.2" cy="486.8" r="4.9"/>
<circle cx="1168.6" cy="498.5" r="4.9"/>
<circle cx="1173.6" cy="505.1" r="4.9"/>
<circle cx="1176.1" cy="518.4" r="4.9"/>
<circle cx="1171.9" cy="530.0" r="4.9"/>
<circle cx="1169.4" cy="540.1" r="4.9"/>
<circle cx="1155.2" cy="544.2" r="4.9"/>
<circle cx="1159.4" cy="546.7" r="4.9"/>
<circle cx="1169.9" cy="558.4" r="4.9"/>
<circle cx="435.0" cy="463.9" r="4.9"/>
<circle cx="434.3" cy="469.1" r="4.9"/>
<circle cx="428.3" cy="466.1" r="4.9"/>
</g>
<g fill="#404040">
<circle cx="452.3" cy="73.4" r="4.9"/>
<circle cx="453.2" cy="76.7" r="4.9"/>
<circle cx="454.0" cy="80.9" r="4.9"/>
<circle cx="463.9" cy="90.4" r="4.9"/>
<circle cx="471.5" cy="96.7" r="4.9"/>
<circle cx="470.2" cy="108.4" r="4.9"/>
<circle cx="476.0" cy="110.4" r="4.9"/>
<circle cx="478.5" cy="109.3" r="4.9"/>
<circle cx="489.7" cy="110.4" r="4.9"/>
<circle cx="256.4" cy="238.7" r="4.9"/>
<circle cx="237.6" cy="250.0" r="4.9"/>
<circle cx="252.9" cy="249.7" r="4.9"/>
<circle cx="233.4" cy="255.9" r="4.9"/>
<circle cx="225.9" cy="262.1" r="4.9"/>
<circle cx="226.4" cy="264.2" r="4.9"/>
<circle cx="239.2" cy="263.1" r="4.9"/>
<circle cx="235.9" cy="258.4" r="4.9"/>
<circle cx="255.1" cy="253.4" r="4.9"/>
<circle cx="893.5" cy="181.7" r="4.9"/>
<circle cx="874.8" cy="188.4" r="4.9"/>
<circle cx="881.0" cy="190.1" r="4.9"/>
<circle cx="884.3" cy="194.2" r="4.9"/>
<circle cx="866.0" cy="193.4" r="4.9"/>
<circle cx="866.0" cy="196.7" r="4.9"/>
<circle cx="898.5" cy="198.4" r="4.9"/>
<circle cx="895.2" cy="186.7" r="4.9"/>
<circle cx="879.3" cy="228.7" r="4.9"/>
<circle cx="891.0" cy="235.0" r="4.9"/>
<circle cx="899.3" cy="232.2" r="4.9"/>
<circle cx="903.5" cy="234.5" r="4.9"/>
<circle cx="884.3" cy="240.9" r="4.9"/>
<circle cx="890.2" cy="249.2" r="4.9"/>
<circle cx="886.8" cy="255.1" r="4.9"/>
<circle cx="894.3" cy="257.6" r="4.9"/>
<circle cx="891.0" cy="261.7" r="4.9"/>
<circle cx="890.2" cy="271.8" r="4.9"/>
<circle cx="896.8" cy="243.4" r="4.9"/>
<circle cx="977.8" cy="346.4" r="4.9"/>
<circle cx="995.3" cy="354.2" r="4.9"/>
<circle cx="988.6" cy="357.6" r="4.9"/>
<circle cx="986.1" cy="362.6" r="4.9"/>
<circle cx="954.4" cy="366.8" r="4.9"/>
<circle cx="964.4" cy="364.3" r="4.9"/>
<circle cx="966.9" cy="369.3" r="4.9"/>
<circle cx="969.4" cy="374.3" r="4.9"/>
<circle cx="978.6" cy="370.1" r="4.9"/>
<circle cx="974.4" cy="380.1" r="4.9"/>
<circle cx="970.3" cy="384.3" r="4.9"/>
<circle cx="961.1" cy="387.6" r="4.9"/>
<circle cx="983.6" cy="380.1" r="4.9"/>
<circle cx="991.1" cy="386.0" r="4.9"/>
<circle cx="976.1" cy="394.3" r="4.9"/>
<circle cx="987.0" cy="385.1" r="4.9"/>
<circle cx="1079.3" cy="383.4" r="4.9"/>
<circle cx="1078.5" cy="388.4" r="4.9"/>
<circle cx="1076.8" cy="393.4" r="4.9"/>
<circle cx="1076.0" cy="398.4" r="4.9"/>
<circle cx="1071.5" cy="407.6" r="4.9"/>
<circle cx="1059.3" cy="413.5" r="4.9"/>
<circle cx="1070.2" cy="415.1" r="4.9"/>
<circle cx="1065.5" cy="423.1" r="4.9"/>
<circle cx="1067.7" cy="436.0" r="4.9"/>
<circle cx="1076.8" cy="436.8" r="4.9"/>
<circle cx="1076.8" cy="446.7" r="4.9"/>
<circle cx="1071.0" cy="450.6" r="4.9"/>
<circle cx="1142.7" cy="431.7" r="4.9"/>
<circle cx="1143.2" cy="440.9" r="4.9"/>
<circle cx="1149.4" cy="449.2" r="4.9"/>
<circle cx="1139.4" cy="451.7" r="4.9"/>
<circle cx="1136.1" cy="458.4" r="4.9"/>
<circle cx="1134.4" cy="463.4" r="4.9"/>
<circle cx="1151.9" cy="460.1" r="4.9"/>
<circle cx="1156.9" cy="456.7" r="4.9"/>
<circle cx="1163.6" cy="456.7" r="4.9"/>
<circle cx="1143.6" cy="466.7" r="4.9"/>
<circle cx="1157.8" cy="470.1" r="4.9"/>
<circle cx="1130.2" cy="473.4" r="4.9"/>
<circle cx="1140.2" cy="473.4" r="4.9"/>
<circle cx="1131.9" cy="480.1" r="4.9"/>
<circle cx="1159.4" cy="480.9" r="4.9"/>
<circle cx="1132.7" cy="486.8" r="4.9"/>
<circle cx="1109.9" cy="458.9" r="4.9"/>
<circle cx="1110.2" cy="467.2" r="4.9"/>
<circle cx="1116.9" cy="480.9" r="4.9"/>
<circle cx="1120.2" cy="487.6" r="4.9"/>
<circle cx="1122.7" cy="493.5" r="4.9"/>
<circle cx="1134.4" cy="496.0" r="4.9"/>
<circle cx="1120.2" cy="497.6" r="4.9"/>
<circle cx="1125.2" cy="500.1" r="4.9"/>
<circle cx="1126.0" cy="512.6" r="4.9"/>
<circle cx="1127.7" cy="516.0" r="4.9"/>
<circle cx="1117.7" cy="517.7" r="4.9"/>
<circle cx="1111.9" cy="526.0" r="4.9"/>
<circle cx="1126.0" cy="512.5" r="4.9"/>
<circle cx="1127.7" cy="515.0" r="4.9"/>
<circle cx="1117.3" cy="518.0" r="4.9"/>
<circle cx="1111.0" cy="526.7" r="4.9"/>
<circle cx="1111.0" cy="530.0" r="4.9"/>
</g>
<g fill="none" stroke="#000" stroke-width="1.5">
<path d="M270.49 515.91A1360.1 1361.9 0 0 1 285.36 510.68M293.41 507.92A1360.1 1361.9 0 0 1 308.41 502.94M316.34 500.39A1360.1 1361.9 0 0 1 331.46 495.66M339.27 493.30A1360.1 1361.9 0 0 1 354.51 488.83M362.20 486.65A1360.1 1361.9 0 0 1 377.56 482.44M385.12 480.43A1360.1 1361.9 0 0 1 400.61 476.48M408.05 474.65A1360.1 1361.9 0 0 1 423.65 470.95M430.98 469.28A1360.1 1361.9 0 0 1 446.70 465.84M453.91 464.33A1360.1 1361.9 0 0 1 469.75 461.15M476.83 459.79A1360.1 1361.9 0 0 1 492.79 456.88M499.76 455.66A1360.1 1361.9 0 0 1 515.84 453.01M522.69 451.94A1360.1 1361.9 0 0 1 538.88 449.55M545.61 448.61A1360.1 1361.9 0 0 1 561.93 446.49M568.54 445.69A1360.1 1361.9 0 0 1 584.97 443.83M591.47 443.16A1360.1 1361.9 0 0 1 608.01 441.57M614.40 441.02A1360.1 1361.9 0 0 1 631.06 439.71M637.32 439.27A1360.1 1361.9 0 0 1 654.10 438.24M660.25 437.91A1360.1 1361.9 0 0 1 677.14 437.16M683.18 436.94A1360.1 1361.9 0 0 1 700.19 436.48M706.11 436.36A1360.1 1361.9 0 0 1 723.23 436.18M729.03 436.17A1360.1 1361.9 0 0 1 746.19 436.28M751.96 436.36A1360.1 1361.9 0 0 1 769.00 436.76M774.89 436.94A1360.1 1361.9 0 0 1 791.82 437.62M797.82 437.91A1360.1 1361.9 0 0 1 814.63 438.87M820.74 439.27A1360.1 1361.9 0 0 1 837.44 440.50M843.67 441.01A1360.1 1361.9 0 0 1 860.25 442.52M866.60 443.15A1360.1 1361.9 0 0 1 883.06 444.93M889.53 445.68A1360.1 1361.9 0 0 1 905.87 447.72M912.45 448.60A1360.1 1361.9 0 0 1 928.68 450.92M935.38 451.93A1360.1 1361.9 0 0 1 951.49 454.50M958.31 455.65A1360.1 1361.9 0 0 1 974.30 458.49M981.23 459.78A1360.1 1361.9 0 0 1 997.11 462.88M1004.16 464.32A1360.1 1361.9 0 0 1 1019.92 467.67M1027.09 469.26A1360.1 1361.9 0 0 1 1042.73 472.88M1050.02 474.63A1360.1 1361.9 0 0 1 1065.54 478.50M1072.94 480.41A1360.1 1361.9 0 0 1 1088.34 484.54M1095.87 486.63A1360.1 1361.9 0 0 1 1111.15 491.01M1118.80 493.28A1360.1 1361.9 0 0 1 1133.96 497.91M1141.73 500.36A1360.1 1361.9 0 0 1 1156.76 505.25M1164.65 507.90A1360.1 1361.9 0 0 1 1194.25 518.30"/>
<path d="M236.10 421.30A1460.7 1462.6 0 0 1 250.97 416.06M259.02 413.29A1460.7 1462.6 0 0 1 274.01 408.28M281.95 405.70A1460.7 1462.6 0 0 1 297.05 400.92M304.88 398.52A1460.7 1462.6 0 0 1 320.09 393.99M327.81 391.76A1460.7 1462.6 0 0 1 343.13 387.47M350.73 385.40A1460.7 1462.6 0 0 1 366.17 381.35M373.66 379.44A1460.7 1462.6 0 0 1 389.21 375.63M396.59 373.88A1460.7 1462.6 0 0 1 412.25 370.31M419.52 368.71A1460.7 1462.6 0 0 1 435.29 365.38M442.44 363.92A1460.7 1462.6 0 0 1 458.32 360.83M465.37 359.52A1460.7 1462.6 0 0 1 481.36 356.67M488.30 355.50A1460.7 1462.6 0 0 1 504.40 352.89M511.22 351.85A1460.7 1462.6 0 0 1 527.43 349.49M534.15 348.57A1460.7 1462.6 0 0 1 550.47 346.46M557.08 345.66A1460.7 1462.6 0 0 1 573.51 343.81M580.01 343.12A1460.7 1462.6 0 0 1 596.54 341.52M602.93 340.95A1460.7 1462.6 0 0 1 619.58 339.60M625.86 339.14A1460.7 1462.6 0 0 1 642.61 338.05M648.79 337.70A1460.7 1462.6 0 0 1 665.65 336.87M671.72 336.62A1460.7 1462.6 0 0 1 688.68 336.05M694.64 335.89A1460.7 1462.6 0 0 1 711.72 335.59M717.57 335.53A1460.7 1462.6 0 0 1 734.75 335.50M740.50 335.53A1460.7 1462.6 0 0 1 757.61 335.77M763.42 335.89A1460.7 1462.6 0 0 1 780.43 336.39M786.35 336.61A1460.7 1462.6 0 0 1 803.24 337.38M809.28 337.70A1460.7 1462.6 0 0 1 826.06 338.72M832.21 339.14A1460.7 1462.6 0 0 1 848.88 340.42M855.13 340.95A1460.7 1462.6 0 0 1 871.70 342.48M878.06 343.12A1460.7 1462.6 0 0 1 894.52 344.90M900.99 345.65A1460.7 1462.6 0 0 1 917.34 347.69M923.92 348.56A1460.7 1462.6 0 0 1 940.16 350.84M946.84 351.84A1460.7 1462.6 0 0 1 962.98 354.36M969.77 355.48A1460.7 1462.6 0 0 1 985.79 358.26M992.70 359.51A1460.7 1462.6 0 0 1 1008.61 362.52M1015.62 363.91A1460.7 1462.6 0 0 1 1031.43 367.17M1038.55 368.69A1460.7 1462.6 0 0 1 1054.25 372.19M1061.48 373.87A1460.7 1462.6 0 0 1 1077.06 377.60M1084.41 379.43A1460.7 1462.6 0 0 1 1099.88 383.40M1107.33 385.38A1460.7 1462.6 0 0 1 1122.69 389.60M1130.26 391.74A1460.7 1462.6 0 0 1 1145.51 396.19M1153.19 398.50A1460.7 1462.6 0 0 1 1168.32 403.19M1176.12 405.67A1460.7 1462.6 0 0 1 1191.14 410.60M1199.04 413.26A1460.7 1462.6 0 0 1 1228.64 423.69"/>
<path d="M201.57 326.31A1561.6 1563.6 0 0 1 216.44 321.06M224.50 318.27A1561.6 1563.6 0 0 1 239.48 313.24M247.44 310.63A1561.6 1563.6 0 0 1 262.52 305.82M270.37 303.38A1561.6 1563.6 0 0 1 285.56 298.79M293.30 296.52A1561.6 1563.6 0 0 1 308.59 292.15M316.24 290.03A1561.6 1563.6 0 0 1 331.63 285.89M339.17 283.93A1561.6 1563.6 0 0 1 354.67 280.01M362.10 278.19A1561.6 1563.6 0 0 1 377.71 274.50M385.04 272.82A1561.6 1563.6 0 0 1 400.74 269.35M407.97 267.82A1561.6 1563.6 0 0 1 423.78 264.57M430.90 263.17A1561.6 1563.6 0 0 1 446.82 260.16M453.84 258.88A1561.6 1563.6 0 0 1 469.85 256.10M476.77 254.95A1561.6 1563.6 0 0 1 492.89 252.39M499.70 251.36A1561.6 1563.6 0 0 1 515.92 249.04M522.64 248.13A1561.6 1563.6 0 0 1 538.96 246.03M545.57 245.24A1561.6 1563.6 0 0 1 562.00 243.38M568.50 242.69A1561.6 1563.6 0 0 1 585.03 241.07M591.44 240.49A1561.6 1563.6 0 0 1 608.06 239.10M614.37 238.63A1561.6 1563.6 0 0 1 631.10 237.48M637.30 237.11A1561.6 1563.6 0 0 1 654.13 236.20M660.24 235.92A1561.6 1563.6 0 0 1 677.17 235.27M683.17 235.08A1561.6 1563.6 0 0 1 700.20 234.67M706.10 234.57A1561.6 1563.6 0 0 1 723.24 234.41M729.04 234.40A1561.6 1563.6 0 0 1 746.20 234.50M751.97 234.57A1561.6 1563.6 0 0 1 769.03 234.92M774.90 235.08A1561.6 1563.6 0 0 1 791.87 235.67M797.84 235.92A1561.6 1563.6 0 0 1 814.70 236.76M820.77 237.10A1561.6 1563.6 0 0 1 837.53 238.18M843.70 238.62A1561.6 1563.6 0 0 1 860.36 239.94M866.64 240.48A1561.6 1563.6 0 0 1 883.20 242.04M889.57 242.68A1561.6 1563.6 0 0 1 906.03 244.48M912.50 245.23A1561.6 1563.6 0 0 1 928.86 247.25M935.44 248.12A1561.6 1563.6 0 0 1 951.69 250.37M958.37 251.35A1561.6 1563.6 0 0 1 974.52 253.84M981.30 254.94A1561.6 1563.6 0 0 1 997.35 257.65M1004.24 258.87A1561.6 1563.6 0 0 1 1020.18 261.81M1027.17 263.16A1561.6 1563.6 0 0 1 1043.01 266.33M1050.10 267.80A1561.6 1563.6 0 0 1 1065.84 271.20M1073.04 272.81A1561.6 1563.6 0 0 1 1088.67 276.43M1095.97 278.17A1561.6 1563.6 0 0 1 1111.50 282.02M1118.90 283.91A1561.6 1563.6 0 0 1 1134.33 287.98M1141.84 290.02A1561.6 1563.6 0 0 1 1157.16 294.31M1164.77 296.50A1561.6 1563.6 0 0 1 1179.99 301.01M1187.70 303.36A1561.6 1563.6 0 0 1 1202.82 308.09M1210.64 310.61A1561.6 1563.6 0 0 1 1225.65 315.57M1233.57 318.25A1561.6 1563.6 0 0 1 1263.17 328.70"/>
<path d="M167.13 231.58A1662.3 1664.5 0 0 1 182.00 226.31M190.07 223.52A1662.3 1664.5 0 0 1 205.03 218.46M213.00 215.83A1662.3 1664.5 0 0 1 228.07 210.99M235.94 208.52A1662.3 1664.5 0 0 1 251.10 203.88M258.87 201.56A1662.3 1664.5 0 0 1 274.14 197.14M281.81 194.97A1662.3 1664.5 0 0 1 297.17 190.75M304.74 188.73A1662.3 1664.5 0 0 1 320.20 184.72M327.68 182.84A1662.3 1664.5 0 0 1 343.23 179.05M350.61 177.30A1662.3 1664.5 0 0 1 366.27 173.72M373.55 172.10A1662.3 1664.5 0 0 1 389.30 168.73M396.48 167.24A1662.3 1664.5 0 0 1 412.33 164.08M419.42 162.72A1662.3 1664.5 0 0 1 435.36 159.78M442.35 158.53A1662.3 1664.5 0 0 1 458.39 155.80M465.29 154.68A1662.3 1664.5 0 0 1 481.42 152.16M488.22 151.15A1662.3 1664.5 0 0 1 504.45 148.85M511.16 147.95A1662.3 1664.5 0 0 1 527.49 145.87M534.09 145.08A1662.3 1664.5 0 0 1 550.52 143.22M557.03 142.53A1662.3 1664.5 0 0 1 573.55 140.89M579.96 140.30A1662.3 1664.5 0 0 1 596.58 138.88M602.90 138.39A1662.3 1664.5 0 0 1 619.61 137.20M625.83 136.80A1662.3 1664.5 0 0 1 642.64 135.84M648.77 135.53A1662.3 1664.5 0 0 1 665.67 134.80M671.70 134.58A1662.3 1664.5 0 0 1 688.70 134.08M694.64 133.95A1662.3 1664.5 0 0 1 711.73 133.68M717.57 133.63A1662.3 1664.5 0 0 1 734.76 133.60M740.50 133.63A1662.3 1664.5 0 0 1 757.62 133.83M763.44 133.94A1662.3 1664.5 0 0 1 780.46 134.38M786.37 134.58A1662.3 1664.5 0 0 1 803.30 135.25M809.31 135.53A1662.3 1664.5 0 0 1 826.14 136.43M832.24 136.80A1662.3 1664.5 0 0 1 848.98 137.92M855.18 138.39A1662.3 1664.5 0 0 1 871.82 139.74M878.11 140.29A1662.3 1664.5 0 0 1 894.66 141.87M901.05 142.52A1662.3 1664.5 0 0 1 917.50 144.32M923.98 145.07A1662.3 1664.5 0 0 1 940.34 147.09M946.92 147.94A1662.3 1664.5 0 0 1 963.18 150.18M969.85 151.14A1662.3 1664.5 0 0 1 986.02 153.59M992.79 154.67A1662.3 1664.5 0 0 1 1008.86 157.33M1015.72 158.52A1662.3 1664.5 0 0 1 1031.70 161.40M1038.66 162.71A1662.3 1664.5 0 0 1 1054.54 165.80M1061.59 167.23A1662.3 1664.5 0 0 1 1077.37 170.54M1084.53 172.09A1662.3 1664.5 0 0 1 1100.21 175.61M1107.46 177.29A1662.3 1664.5 0 0 1 1123.05 181.01M1130.40 182.83A1662.3 1664.5 0 0 1 1145.89 186.76M1153.33 188.71A1662.3 1664.5 0 0 1 1168.72 192.86M1176.27 194.95A1662.3 1664.5 0 0 1 1191.56 199.31M1199.20 201.54A1662.3 1664.5 0 0 1 1214.40 206.11M1222.14 208.50A1662.3 1664.5 0 0 1 1237.23 213.27M1245.07 215.81A1662.3 1664.5 0 0 1 1260.07 220.79M1268.01 223.50A1662.3 1664.5 0 0 1 1297.61 233.97"/>
</g>
<path d="M126.00 138.98A1763.24 1765.55 0 0 1 1332.14 138.98L1159.73 613.29A1259.15 1260.80 0 0 0 298.41 613.29Z" fill="none" stroke="#000" stroke-width="3" stroke-linejoin="miter"/>
<text class="n" transform="translate(407.3 102.2) scale(1 1.07)">283</text>
<text class="n" transform="translate(466.4 102.2) scale(1 1.07)">592</text>
<text class="n" transform="translate(582.2 100.0) scale(1 1.07)">614</text>
<text class="n" transform="translate(582.2 183.3) scale(1 1.07)">73</text>
<text class="n" transform="translate(365.4 192.6) scale(1 1.07)">132</text>
<text class="n" transform="translate(424.3 179.2) scale(1 1.07)">630</text>
<text class="n" transform="translate(462.2 256.7) scale(1 1.07)">584</text>
<text class="n" transform="translate(241.8 263.9) scale(1 1.07)">680</text>
<text class="n" transform="translate(240.1 314.6) scale(1 1.07)">307</text>
<text class="n" transform="translate(256.8 342.9) scale(1 1.07)">406</text>
<text class="n" transform="translate(367.8 342.9) scale(1 1.07)">64</text>
<text class="n" transform="translate(358.6 395.1) scale(1 1.07)">566</text>
<text class="n" transform="translate(296.0 440.6) scale(1 1.07)">606</text>
<text class="n" transform="translate(261.8 451.2) scale(1 1.07)">665</text>
<text class="n" transform="translate(322.7 410.5) scale(1 1.07)">60</text>
<text class="n" transform="translate(338.6 520.0) scale(1 1.07)">573</text>
<text class="n" transform="translate(286.3 562.3) scale(1 1.07)">126</text>
<text class="n" transform="translate(457.7 370.9) scale(1 1.07)">99</text>
<text class="n" transform="translate(458.5 428.4) scale(1 1.07)">76</text>
<text class="n" transform="translate(437.6 480.6) scale(1 1.07)">616</text>
<text class="n" transform="translate(477.7 551.7) scale(1 1.07)">88</text>
<text class="n" transform="translate(719.4 342.5) scale(1 1.07)">565</text>
<text class="n" transform="translate(783.6 379.2) scale(1 1.07)">700</text>
<text class="n" transform="translate(776.1 428.3) scale(1 1.07)">588</text>
<text class="n" transform="translate(770.3 468.4) scale(1 1.07)">308</text>
<text class="n" transform="translate(684.3 524.2) scale(1 1.07)">589</text>
<text class="n" transform="translate(826.8 204.2) scale(1 1.07)">575</text>
<text class="n" transform="translate(881.8 198.4) scale(1 1.07)">688</text>
<text class="n" transform="translate(932.8 205.9) scale(1 1.07)">667</text>
<text class="n" transform="translate(890.2 255.5) scale(1 1.07)">604</text>
<text class="n" transform="translate(883.5 389.3) scale(1 1.07)">634</text>
<text class="n" transform="translate(931.1 406.3) scale(1 1.07)">247</text>
<text class="n" transform="translate(976.1 381.7) scale(1 1.07)">695</text>
<text class="n" transform="translate(948.4 150.9) scale(1 1.07)">682</text>
<text class="n" transform="translate(1025.2 158.0) scale(1 1.07)">698</text>
<text class="n" transform="translate(981.3 258.9) scale(1 1.07)">580</text>
<text class="n" transform="translate(1062.7 276.8) scale(1 1.07)">643</text>
<text class="n" transform="translate(1200.1 170.9) scale(1 1.07)">658</text>
<text class="n" transform="translate(1301.1 165.1) scale(1 1.07)">570</text>
<text class="n" transform="translate(1254.4 206.8) scale(1 1.07)">596</text>
<text class="n" transform="translate(1260.2 310.9) scale(1 1.07)">611</text>
<text class="n" transform="translate(1144.2 367.3) scale(1 1.07)">455</text>
<text class="n" transform="translate(1055.2 358.9) scale(1 1.07)">371</text>
<text class="n" transform="translate(1007.6 416.8) scale(1 1.07)">603</text>
<text class="n" transform="translate(1072.7 427.6) scale(1 1.07)">629</text>
<text class="n" transform="translate(1017.3 485.6) scale(1 1.07)">564</text>
<text class="n" transform="translate(1136.1 486.7) scale(1 1.07)">571</text>
<text class="n" transform="translate(1063.5 566.2) scale(1 1.07)">46</text>
<text class="n" transform="translate(1168.6 537.2) scale(1 1.07)">567</text>
<g stroke="#000" stroke-width="1.5" fill="none"><rect x="109.15" y="0.6" width="1239.55" height="633.6"/>
<path d="M189.93 634.2v-12.4M189.93 0.6v12.3M324.72 634.2v-12.4M324.72 0.6v12.3M459.50 634.2v-12.4M459.50 0.6v12.3M594.29 634.2v-12.4M594.29 0.6v12.3M729.07 634.2v-12.4M729.07 0.6v12.3M863.85 634.2v-12.4M863.85 0.6v12.3M998.64 634.2v-12.4M998.64 0.6v12.3M1133.42 634.2v-12.4M1133.42 0.6v12.3M1268.21 634.2v-12.4M1268.21 0.6v12.3M109.15 583.41h12M1348.7 583.41h-12M109.15 515.93h12M1348.7 515.93h-12M109.15 448.45h12M1348.7 448.45h-12M109.15 380.97h12M1348.7 380.97h-12M109.15 313.49h12M1348.7 313.49h-12M109.15 246.01h12M1348.7 246.01h-12M109.15 178.53h12M1348.7 178.53h-12M109.15 111.05h12M1348.7 111.05h-12M109.15 43.57h12M1348.7 43.57h-12"/></g>
<text class="tk" transform="translate(151.4 668.0) scale(1 1.085)">−400</text>
<text class="tk" transform="translate(286.2 668.0) scale(1 1.085)">−300</text>
<text class="tk" transform="translate(421.0 668.0) scale(1 1.085)">−200</text>
<text class="tk" transform="translate(555.8 668.0) scale(1 1.085)">−100</text>
<text class="tk" text-anchor="middle" transform="translate(729.1 668.0) scale(1 1.085)">0</text>
<text class="tk" text-anchor="middle" transform="translate(863.9 668.0) scale(1 1.085)">100</text>
<text class="tk" text-anchor="middle" transform="translate(998.6 668.0) scale(1 1.085)">200</text>
<text class="tk" text-anchor="middle" transform="translate(1133.4 668.0) scale(1 1.085)">300</text>
<text class="tk" text-anchor="middle" transform="translate(1268.2 668.0) scale(1 1.085)">400</text>
<text class="tk" text-anchor="end" transform="translate(101.2 594.0) scale(1 1.085)">900</text>
<text class="tk" text-anchor="end" transform="translate(101.2 526.5) scale(1 1.085)">950</text>
<text class="tk" text-anchor="end" transform="translate(101.2 459.1) scale(1 1.085)">1000</text>
<text class="tk" text-anchor="end" transform="translate(101.2 391.6) scale(1 1.085)">1050</text>
<text class="tk" text-anchor="end" transform="translate(101.2 324.1) scale(1 1.085)">1100</text>
<text class="tk" text-anchor="end" transform="translate(101.2 256.6) scale(1 1.085)">1150</text>
<text class="tk" text-anchor="end" transform="translate(101.2 189.1) scale(1 1.085)">1200</text>
<text class="tk" text-anchor="end" transform="translate(101.2 121.6) scale(1 1.085)">1250</text>
<text class="tk" text-anchor="end" transform="translate(101.2 54.2) scale(1 1.085)">1300</text>
<text class="tk" text-anchor="middle" transform="translate(729.0 701.0) scale(1 1.085)">X (in Mpc)</text>
<text class="tk" text-anchor="middle" transform="translate(20.0 318.8) rotate(-90) scale(1 1.085)">Y (in Mpc)</text>
</svg></body></html>
